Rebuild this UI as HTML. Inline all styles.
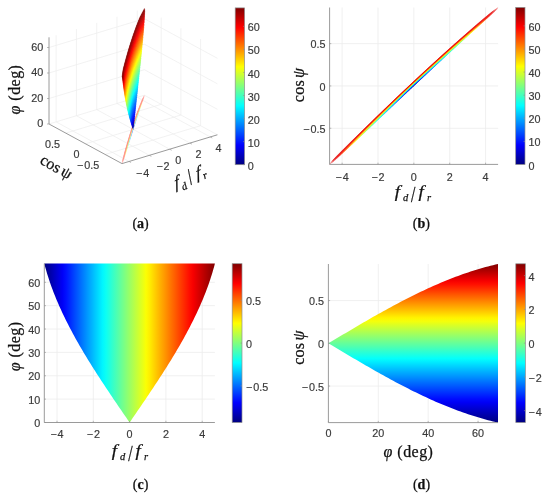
<!DOCTYPE html><html><head><meta charset="utf-8"><title>Figure</title><style>html,body{margin:0;padding:0;background:#fff;overflow:hidden;}svg{display:block;}</style></head><body><svg width="550" height="494" viewBox="0 0 550 494"><defs><linearGradient id="cbb" gradientUnits="userSpaceOnUse" x1="0" y1="164.5" x2="0" y2="7.4"><stop offset="0.0000" stop-color="#000080"/><stop offset="0.1250" stop-color="#0000ff"/><stop offset="0.3750" stop-color="#00ffff"/><stop offset="0.6250" stop-color="#ffff00"/><stop offset="0.8750" stop-color="#ff0000"/><stop offset="1.0000" stop-color="#800000"/></linearGradient><linearGradient id="gc" gradientUnits="userSpaceOnUse" x1="44.3" y1="0" x2="214.9" y2="0"><stop offset="0.0000" stop-color="#000080"/><stop offset="0.0213" stop-color="#000098"/><stop offset="0.0426" stop-color="#0000b0"/><stop offset="0.0638" stop-color="#0000c8"/><stop offset="0.0851" stop-color="#0000e0"/><stop offset="0.1064" stop-color="#0000f7"/><stop offset="0.1277" stop-color="#0010ff"/><stop offset="0.1489" stop-color="#0027ff"/><stop offset="0.1702" stop-color="#003fff"/><stop offset="0.1915" stop-color="#0056ff"/><stop offset="0.2128" stop-color="#006dff"/><stop offset="0.2340" stop-color="#0084ff"/><stop offset="0.2553" stop-color="#009bff"/><stop offset="0.2766" stop-color="#00b1ff"/><stop offset="0.2979" stop-color="#00c8ff"/><stop offset="0.3191" stop-color="#00deff"/><stop offset="0.3404" stop-color="#00f5ff"/><stop offset="0.3617" stop-color="#0cfff3"/><stop offset="0.3830" stop-color="#22ffdd"/><stop offset="0.4043" stop-color="#38ffc7"/><stop offset="0.4255" stop-color="#4effb1"/><stop offset="0.4468" stop-color="#64ff9b"/><stop offset="0.4681" stop-color="#7aff85"/><stop offset="0.4894" stop-color="#90ff6f"/><stop offset="0.5106" stop-color="#a5ff5a"/><stop offset="0.5319" stop-color="#bbff44"/><stop offset="0.5532" stop-color="#d0ff2f"/><stop offset="0.5745" stop-color="#e5ff1a"/><stop offset="0.5957" stop-color="#fbff04"/><stop offset="0.6170" stop-color="#ffee00"/><stop offset="0.6383" stop-color="#ffd900"/><stop offset="0.6596" stop-color="#ffc400"/><stop offset="0.6809" stop-color="#ffaf00"/><stop offset="0.7021" stop-color="#ff9b00"/><stop offset="0.7234" stop-color="#ff8600"/><stop offset="0.7447" stop-color="#ff7100"/><stop offset="0.7660" stop-color="#ff5d00"/><stop offset="0.7872" stop-color="#ff4800"/><stop offset="0.8085" stop-color="#ff3400"/><stop offset="0.8298" stop-color="#ff2000"/><stop offset="0.8511" stop-color="#ff0c00"/><stop offset="0.8723" stop-color="#f70000"/><stop offset="0.8936" stop-color="#e30000"/><stop offset="0.9149" stop-color="#cf0000"/><stop offset="0.9362" stop-color="#bb0000"/><stop offset="0.9574" stop-color="#a70000"/><stop offset="0.9787" stop-color="#930000"/><stop offset="1.0000" stop-color="#800000"/></linearGradient><linearGradient id="cbc" gradientUnits="userSpaceOnUse" x1="0" y1="422.5" x2="0" y2="263.7"><stop offset="0.0000" stop-color="#000080"/><stop offset="0.1250" stop-color="#0000ff"/><stop offset="0.3750" stop-color="#00ffff"/><stop offset="0.6250" stop-color="#ffff00"/><stop offset="0.8750" stop-color="#ff0000"/><stop offset="1.0000" stop-color="#800000"/></linearGradient><linearGradient id="gd" gradientUnits="userSpaceOnUse" x1="0" y1="422.6" x2="0" y2="264.0"><stop offset="0.0000" stop-color="#000080"/><stop offset="0.0213" stop-color="#000093"/><stop offset="0.0426" stop-color="#0000a6"/><stop offset="0.0638" stop-color="#0000ba"/><stop offset="0.0851" stop-color="#0000ce"/><stop offset="0.1064" stop-color="#0000e2"/><stop offset="0.1277" stop-color="#0000f6"/><stop offset="0.1489" stop-color="#000bff"/><stop offset="0.1702" stop-color="#001fff"/><stop offset="0.1915" stop-color="#0033ff"/><stop offset="0.2128" stop-color="#0047ff"/><stop offset="0.2340" stop-color="#005cff"/><stop offset="0.2553" stop-color="#0070ff"/><stop offset="0.2766" stop-color="#0085ff"/><stop offset="0.2979" stop-color="#009aff"/><stop offset="0.3191" stop-color="#00aeff"/><stop offset="0.3404" stop-color="#00c3ff"/><stop offset="0.3617" stop-color="#00d8ff"/><stop offset="0.3830" stop-color="#00edff"/><stop offset="0.4043" stop-color="#04fffb"/><stop offset="0.4255" stop-color="#19ffe6"/><stop offset="0.4468" stop-color="#2effd1"/><stop offset="0.4681" stop-color="#44ffbb"/><stop offset="0.4894" stop-color="#5affa5"/><stop offset="0.5106" stop-color="#6fff90"/><stop offset="0.5319" stop-color="#85ff7a"/><stop offset="0.5532" stop-color="#9bff64"/><stop offset="0.5745" stop-color="#b1ff4e"/><stop offset="0.5957" stop-color="#c7ff38"/><stop offset="0.6170" stop-color="#ddff22"/><stop offset="0.6383" stop-color="#f4ff0b"/><stop offset="0.6596" stop-color="#fff400"/><stop offset="0.6809" stop-color="#ffde00"/><stop offset="0.7021" stop-color="#ffc700"/><stop offset="0.7234" stop-color="#ffb000"/><stop offset="0.7447" stop-color="#ff9a00"/><stop offset="0.7660" stop-color="#ff8300"/><stop offset="0.7872" stop-color="#ff6c00"/><stop offset="0.8085" stop-color="#ff5500"/><stop offset="0.8298" stop-color="#ff3d00"/><stop offset="0.8511" stop-color="#ff2600"/><stop offset="0.8723" stop-color="#ff0f00"/><stop offset="0.8936" stop-color="#f60000"/><stop offset="0.9149" stop-color="#df0000"/><stop offset="0.9362" stop-color="#c70000"/><stop offset="0.9574" stop-color="#af0000"/><stop offset="0.9787" stop-color="#970000"/><stop offset="1.0000" stop-color="#800000"/></linearGradient><linearGradient id="cbd" gradientUnits="userSpaceOnUse" x1="0" y1="422.5" x2="0" y2="263.8"><stop offset="0.0000" stop-color="#000080"/><stop offset="0.1250" stop-color="#0000ff"/><stop offset="0.3750" stop-color="#00ffff"/><stop offset="0.6250" stop-color="#ffff00"/><stop offset="0.8750" stop-color="#ff0000"/><stop offset="1.0000" stop-color="#800000"/></linearGradient><linearGradient id="cba" gradientUnits="userSpaceOnUse" x1="0" y1="164.7" x2="0" y2="7.9"><stop offset="0.0000" stop-color="#000080"/><stop offset="0.1250" stop-color="#0000ff"/><stop offset="0.3750" stop-color="#00ffff"/><stop offset="0.6250" stop-color="#ffff00"/><stop offset="0.8750" stop-color="#ff0000"/><stop offset="1.0000" stop-color="#800000"/></linearGradient></defs><rect width="550" height="494" fill="#fff"/><line x1="342.13" y1="7.50" x2="342.13" y2="164.40" stroke="#ececec" stroke-width="0.8" />
<line x1="377.99" y1="7.50" x2="377.99" y2="164.40" stroke="#ececec" stroke-width="0.8" />
<line x1="413.85" y1="7.50" x2="413.85" y2="164.40" stroke="#ececec" stroke-width="0.8" />
<line x1="449.71" y1="7.50" x2="449.71" y2="164.40" stroke="#ececec" stroke-width="0.8" />
<line x1="485.57" y1="7.50" x2="485.57" y2="164.40" stroke="#ececec" stroke-width="0.8" />
<line x1="329.60" y1="128.26" x2="498.10" y2="128.26" stroke="#ececec" stroke-width="0.8" />
<line x1="329.60" y1="85.95" x2="498.10" y2="85.95" stroke="#ececec" stroke-width="0.8" />
<line x1="329.60" y1="43.64" x2="498.10" y2="43.64" stroke="#ececec" stroke-width="0.8" />
<polygon points="410.71,88.90 410.87,88.75 411.04,88.60 411.20,88.45 411.36,88.30 411.52,88.15 411.68,87.99 411.84,87.84 412.00,87.69 412.16,87.54 412.32,87.39 412.48,87.24 412.64,87.09 412.80,86.93 412.97,86.78 413.13,86.63 413.29,86.48 413.45,86.33 413.61,86.18 413.77,86.03 413.93,85.87 414.09,85.72 414.25,85.57 414.41,85.42 414.57,85.27 414.74,85.12 414.90,84.97 415.06,84.81 415.22,84.66 415.38,84.51 415.54,84.36 415.70,84.21 415.86,84.06 416.02,83.91 416.18,83.75 416.35,83.60 416.51,83.45 416.67,83.30 416.83,83.15 416.99,83.00 416.99,83.00 416.81,83.15 416.63,83.30 416.46,83.45 416.28,83.60 416.10,83.75 415.93,83.91 415.76,84.06 415.58,84.21 415.41,84.36 415.24,84.51 415.06,84.66 414.89,84.81 414.72,84.97 414.54,85.12 414.37,85.27 414.20,85.42 414.03,85.57 413.86,85.72 413.69,85.87 413.52,86.03 413.37,86.18 413.22,86.33 413.07,86.48 412.92,86.63 412.77,86.78 412.63,86.93 412.48,87.09 412.33,87.24 412.18,87.39 412.03,87.54 411.88,87.69 411.73,87.84 411.58,87.99 411.44,88.15 411.29,88.30 411.14,88.45 411.00,88.60 410.85,88.75 410.71,88.90" fill="#00008e" stroke="#00008e" stroke-width="0.15"/>
<polygon points="407.59,91.85 407.91,91.55 408.23,91.25 408.55,90.94 408.87,90.64 409.19,90.34 409.51,90.04 409.83,89.73 410.15,89.43 410.48,89.13 410.78,88.83 411.07,88.52 411.37,88.22 411.66,87.92 411.96,87.61 412.25,87.31 412.55,87.01 412.85,86.71 413.15,86.40 413.45,86.10 413.77,85.80 414.11,85.50 414.46,85.19 414.80,84.89 415.15,84.59 415.49,84.29 415.84,83.98 416.19,83.68 416.54,83.38 416.90,83.07 417.23,82.77 417.55,82.47 417.88,82.17 418.20,81.86 418.52,81.56 418.84,81.26 419.16,80.96 419.49,80.65 419.81,80.35 420.13,80.05 420.13,80.05 419.77,80.35 419.42,80.65 419.07,80.96 418.72,81.26 418.37,81.56 418.03,81.86 417.68,82.17 417.33,82.47 416.99,82.77 416.65,83.07 416.30,83.38 415.96,83.68 415.62,83.98 415.27,84.29 414.93,84.59 414.59,84.89 414.25,85.19 413.91,85.50 413.57,85.80 413.25,86.10 412.94,86.40 412.64,86.71 412.34,87.01 412.04,87.31 411.74,87.61 411.43,87.92 411.13,88.22 410.83,88.52 410.53,88.83 410.23,89.13 409.94,89.43 409.64,89.73 409.34,90.04 409.04,90.34 408.75,90.64 408.45,90.94 408.16,91.25 407.87,91.55 407.59,91.85" fill="#0000ac" stroke="#0000ac" stroke-width="0.15"/>
<polygon points="404.47,94.79 404.95,94.34 405.43,93.89 405.91,93.43 406.39,92.98 406.87,92.53 407.35,92.07 407.80,91.62 408.24,91.17 408.68,90.71 409.12,90.26 409.57,89.81 410.01,89.35 410.46,88.90 410.91,88.44 411.36,87.99 411.81,87.54 412.26,87.08 412.72,86.63 413.17,86.18 413.65,85.72 414.16,85.27 414.67,84.82 415.19,84.36 415.70,83.91 416.21,83.46 416.73,83.00 417.24,82.55 417.76,82.09 418.28,81.64 418.80,81.19 419.33,80.73 419.85,80.28 420.37,79.83 420.85,79.37 421.34,78.92 421.82,78.47 422.30,78.01 422.79,77.56 423.27,77.11 423.27,77.11 422.73,77.56 422.21,78.01 421.68,78.47 421.16,78.92 420.64,79.37 420.12,79.83 419.60,80.28 419.09,80.73 418.57,81.19 418.06,81.64 417.55,82.09 417.03,82.55 416.52,83.00 416.01,83.46 415.50,83.91 414.99,84.36 414.48,84.82 413.97,85.27 413.47,85.72 412.98,86.18 412.53,86.63 412.07,87.08 411.62,87.54 411.16,87.99 410.71,88.44 410.26,88.90 409.80,89.35 409.35,89.81 408.90,90.26 408.45,90.71 408.00,91.17 407.55,91.62 407.11,92.07 406.66,92.53 406.22,92.98 405.77,93.43 405.33,93.89 404.90,94.34 404.47,94.79" fill="#0000cb" stroke="#0000cb" stroke-width="0.15"/>
<polygon points="401.37,97.73 402.01,97.12 402.65,96.52 403.29,95.91 403.93,95.31 404.55,94.71 405.13,94.10 405.71,93.50 406.30,92.89 406.89,92.29 407.49,91.69 408.08,91.08 408.68,90.48 409.28,89.88 409.88,89.27 410.49,88.67 411.09,88.06 411.70,87.46 412.30,86.86 412.91,86.25 413.55,85.65 414.23,85.04 414.90,84.44 415.58,83.84 416.26,83.23 416.94,82.63 417.63,82.02 418.31,81.42 418.99,80.82 419.68,80.21 420.37,79.61 421.06,79.01 421.76,78.40 422.46,77.80 423.17,77.19 423.82,76.59 424.47,75.99 425.12,75.38 425.76,74.78 426.41,74.17 426.41,74.17 425.69,74.78 424.99,75.38 424.29,75.99 423.59,76.59 422.90,77.19 422.21,77.80 421.53,78.40 420.84,79.01 420.15,79.61 419.47,80.21 418.79,80.82 418.11,81.42 417.43,82.02 416.75,82.63 416.07,83.23 415.40,83.84 414.72,84.44 414.05,85.04 413.37,85.65 412.73,86.25 412.12,86.86 411.51,87.46 410.90,88.06 410.30,88.67 409.69,89.27 409.09,89.88 408.48,90.48 407.88,91.08 407.28,91.69 406.68,92.29 406.08,92.89 405.48,93.50 404.88,94.10 404.29,94.71 403.70,95.31 403.11,95.91 402.52,96.52 401.94,97.12 401.37,97.73" fill="#0000e8" stroke="#0000e8" stroke-width="0.15"/>
<polygon points="398.29,100.64 399.09,99.89 399.88,99.14 400.68,98.38 401.46,97.63 402.17,96.88 402.90,96.12 403.64,95.37 404.38,94.61 405.12,93.86 405.87,93.11 406.61,92.35 407.36,91.60 408.11,90.85 408.87,90.09 409.62,89.34 410.38,88.59 411.14,87.83 411.89,87.08 412.66,86.33 413.46,85.57 414.30,84.82 415.14,84.07 415.98,83.31 416.83,82.56 417.68,81.81 418.52,81.05 419.37,80.30 420.23,79.55 421.08,78.79 421.94,78.04 422.80,77.29 423.66,76.53 424.53,75.78 425.40,75.02 426.29,74.27 427.11,73.52 427.92,72.76 428.72,72.01 429.53,71.26 429.53,71.26 428.63,72.01 427.76,72.76 426.89,73.52 426.02,74.27 425.16,75.02 424.30,75.78 423.44,76.53 422.58,77.29 421.73,78.04 420.88,78.79 420.03,79.55 419.18,80.30 418.33,81.05 417.49,81.81 416.65,82.56 415.80,83.31 414.96,84.07 414.12,84.82 413.28,85.57 412.48,86.33 411.72,87.08 410.96,87.83 410.20,88.59 409.44,89.34 408.68,90.09 407.92,90.85 407.17,91.60 406.41,92.35 405.66,93.11 404.91,93.86 404.16,94.61 403.42,95.37 402.67,96.12 401.93,96.88 401.19,97.63 400.45,98.38 399.72,99.14 399.00,99.89 398.29,100.64" fill="#0007ff" stroke="#0007ff" stroke-width="0.15"/>
<polygon points="395.23,103.54 396.18,102.64 397.14,101.74 398.09,100.84 398.95,99.93 399.82,99.03 400.70,98.13 401.58,97.23 402.47,96.32 403.36,95.42 404.26,94.52 405.15,93.62 406.05,92.72 406.96,91.81 407.86,90.91 408.77,90.01 409.67,89.11 410.58,88.21 411.49,87.30 412.41,86.40 413.37,85.50 414.37,84.60 415.38,83.69 416.38,82.79 417.39,81.89 418.41,80.99 419.42,80.09 420.44,79.18 421.45,78.28 422.48,77.38 423.50,76.48 424.53,75.58 425.56,74.67 426.59,73.77 427.64,72.87 428.69,71.97 429.74,71.06 430.71,70.16 431.67,69.26 432.64,68.36 432.64,68.36 431.57,69.26 430.51,70.16 429.47,71.06 428.43,71.97 427.40,72.87 426.37,73.77 425.34,74.67 424.32,75.58 423.30,76.48 422.28,77.38 421.26,78.28 420.25,79.18 419.23,80.09 418.22,80.99 417.22,81.89 416.21,82.79 415.21,83.69 414.20,84.60 413.20,85.50 412.24,86.40 411.33,87.30 410.41,88.21 409.50,89.11 408.59,90.01 407.68,90.91 406.77,91.81 405.86,92.72 404.96,93.62 404.06,94.52 403.16,95.42 402.26,96.32 401.37,97.23 400.47,98.13 399.59,99.03 398.70,99.93 397.82,100.84 396.94,101.74 396.08,102.64 395.23,103.54" fill="#0025ff" stroke="#0025ff" stroke-width="0.15"/>
<polygon points="392.20,106.42 393.30,105.37 394.41,104.32 395.48,103.27 396.48,102.22 397.49,101.17 398.52,100.12 399.55,99.07 400.58,98.02 401.62,96.97 402.66,95.92 403.71,94.87 404.76,93.82 405.81,92.77 406.86,91.72 407.92,90.67 408.98,89.62 410.04,88.57 411.10,87.52 412.17,86.47 413.28,85.43 414.45,84.38 415.62,83.33 416.79,82.28 417.96,81.23 419.13,80.18 420.31,79.13 421.49,78.08 422.67,77.03 423.86,75.98 425.05,74.93 426.25,73.88 427.44,72.83 428.65,71.78 429.86,70.73 431.08,69.68 432.31,68.63 433.48,67.58 434.61,66.53 435.74,65.48 435.74,65.48 434.48,66.53 433.26,67.58 432.04,68.63 430.83,69.68 429.62,70.73 428.43,71.78 427.23,72.83 426.04,73.88 424.85,74.93 423.67,75.98 422.48,77.03 421.30,78.08 420.13,79.13 418.95,80.18 417.78,81.23 416.61,82.28 415.45,83.33 414.28,84.38 413.12,85.43 412.00,86.47 410.94,87.52 409.87,88.57 408.80,89.62 407.74,90.67 406.68,91.72 405.62,92.77 404.57,93.82 403.52,94.87 402.47,95.92 401.42,96.97 400.37,98.02 399.33,99.07 398.29,100.12 397.26,101.17 396.23,102.22 395.20,103.27 394.19,104.32 393.18,105.37 392.20,106.42" fill="#0043ff" stroke="#0043ff" stroke-width="0.15"/>
<polygon points="389.19,109.27 390.45,108.08 391.71,106.88 392.88,105.68 394.02,104.49 395.18,103.29 396.35,102.10 397.53,100.90 398.71,99.70 399.89,98.51 401.08,97.31 402.27,96.12 403.47,94.92 404.67,93.72 405.87,92.53 407.08,91.33 408.29,90.14 409.50,88.94 410.71,87.74 411.93,86.55 413.20,85.35 414.53,84.16 415.85,82.96 417.18,81.76 418.52,80.57 419.85,79.37 421.19,78.18 422.54,76.98 423.88,75.78 425.23,74.59 426.59,73.39 427.95,72.20 429.31,71.00 430.69,69.80 432.06,68.61 433.45,67.41 434.85,66.22 436.23,65.02 437.52,63.82 438.81,62.63 438.81,62.63 437.38,63.82 435.98,65.02 434.59,66.22 433.21,67.41 431.83,68.61 430.47,69.80 429.10,71.00 427.74,72.20 426.39,73.39 425.04,74.59 423.70,75.78 422.35,76.98 421.01,78.18 419.68,79.37 418.35,80.57 417.02,81.76 415.69,82.96 414.36,84.16 413.04,85.35 411.77,86.55 410.55,87.74 409.33,88.94 408.12,90.14 406.91,91.33 405.70,92.53 404.49,93.72 403.28,94.92 402.08,96.12 400.89,97.31 399.69,98.51 398.50,99.70 397.31,100.90 396.13,102.10 394.95,103.29 393.78,104.49 392.61,105.68 391.45,106.88 390.31,108.08 389.19,109.27" fill="#0062ff" stroke="#0062ff" stroke-width="0.15"/>
<polygon points="386.22,112.10 387.63,110.76 389.04,109.41 390.31,108.07 391.60,106.73 392.90,105.39 394.21,104.05 395.52,102.71 396.85,101.37 398.18,100.03 399.51,98.69 400.85,97.35 402.19,96.01 403.54,94.67 404.89,93.32 406.25,91.98 407.60,90.64 408.97,89.30 410.33,87.96 411.70,86.62 413.12,85.28 414.60,83.94 416.09,82.60 417.58,81.26 419.07,79.92 420.57,78.58 422.07,77.23 423.57,75.89 425.08,74.55 426.59,73.21 428.11,71.87 429.64,70.53 431.17,69.19 432.70,67.85 434.25,66.51 435.80,65.17 437.38,63.83 438.97,62.49 440.41,61.14 441.86,59.80 441.86,59.80 440.25,61.14 438.67,62.49 437.11,63.83 435.56,65.17 434.02,66.51 432.48,67.85 430.96,69.19 429.43,70.53 427.92,71.87 426.40,73.21 424.89,74.55 423.39,75.89 421.89,77.23 420.39,78.58 418.90,79.92 417.41,81.26 415.93,82.60 414.45,83.94 412.97,85.28 411.54,86.62 410.17,87.96 408.80,89.30 407.44,90.64 406.08,91.98 404.72,93.32 403.36,94.67 402.01,96.01 400.66,97.35 399.32,98.69 397.98,100.03 396.64,101.37 395.31,102.71 393.99,104.05 392.67,105.39 391.35,106.73 390.05,108.07 388.75,109.41 387.47,110.76 386.22,112.10" fill="#0080ff" stroke="#0080ff" stroke-width="0.15"/>
<polygon points="383.28,114.89 384.84,113.40 386.38,111.92 387.77,110.44 389.20,108.95 390.64,107.47 392.09,105.98 393.54,104.50 395.01,103.02 396.48,101.53 397.96,100.05 399.44,98.56 400.93,97.08 402.42,95.60 403.92,94.11 405.42,92.63 406.93,91.14 408.44,89.66 409.95,88.18 411.47,86.69 413.05,85.21 414.68,83.72 416.32,82.24 417.97,80.76 419.62,79.27 421.27,77.79 422.93,76.30 424.60,74.82 426.26,73.34 427.94,71.85 429.62,70.37 431.30,68.88 433.00,67.40 434.70,65.92 436.41,64.43 438.13,62.95 439.87,61.46 441.64,59.98 443.28,58.50 444.88,57.01 444.88,57.01 443.09,58.50 441.34,59.98 439.61,61.46 437.89,62.95 436.18,64.43 434.48,65.92 432.79,67.40 431.10,68.88 429.42,70.37 427.75,71.85 426.08,73.34 424.41,74.82 422.76,76.30 421.10,77.79 419.45,79.27 417.81,80.76 416.16,82.24 414.53,83.72 412.89,85.21 411.31,86.69 409.79,88.18 408.28,89.66 406.76,91.14 405.26,92.63 403.75,94.11 402.25,95.60 400.75,97.08 399.26,98.56 397.77,100.05 396.29,101.53 394.81,103.02 393.33,104.50 391.87,105.98 390.41,107.47 388.95,108.95 387.51,110.44 386.08,111.92 384.66,113.40 383.28,114.89" fill="#009eff" stroke="#009eff" stroke-width="0.15"/>
<polygon points="380.38,117.65 382.09,116.02 383.73,114.40 385.26,112.77 386.82,111.14 388.40,109.52 389.99,107.89 391.59,106.27 393.19,104.64 394.81,103.02 396.43,101.39 398.05,99.77 399.68,98.14 401.32,96.52 402.96,94.89 404.61,93.26 406.26,91.64 407.92,90.01 409.58,88.39 411.24,86.76 412.97,85.14 414.76,83.51 416.55,81.89 418.35,80.26 420.16,78.64 421.97,77.01 423.78,75.38 425.60,73.76 427.43,72.13 429.26,70.51 431.10,68.88 432.95,67.26 434.81,65.63 436.67,64.01 438.55,62.38 440.43,60.76 442.34,59.13 444.28,57.50 446.11,55.88 447.87,54.25 447.87,54.25 445.90,55.88 443.98,57.50 442.08,59.13 440.19,60.76 438.32,62.38 436.45,64.01 434.60,65.63 432.75,67.26 430.91,68.88 429.07,70.51 427.25,72.13 425.42,73.76 423.61,75.38 421.80,77.01 419.99,78.64 418.19,80.26 416.40,81.89 414.61,83.51 412.82,85.14 411.09,86.76 409.42,88.39 407.76,90.01 406.10,91.64 404.44,93.26 402.79,94.89 401.15,96.52 399.51,98.14 397.87,99.77 396.24,101.39 394.61,103.02 392.99,104.64 391.38,106.27 389.77,107.89 388.17,109.52 386.58,111.14 385.00,112.77 383.43,114.40 381.88,116.02 380.38,117.65" fill="#00bcff" stroke="#00bcff" stroke-width="0.15"/>
<polygon points="377.53,120.36 379.38,118.60 381.12,116.83 382.79,115.07 384.48,113.31 386.20,111.54 387.92,109.78 389.66,108.01 391.40,106.25 393.15,104.48 394.91,102.72 396.68,100.95 398.45,99.19 400.23,97.42 402.02,95.66 403.81,93.89 405.60,92.13 407.40,90.36 409.21,88.60 411.02,86.83 412.89,85.07 414.84,83.30 416.78,81.54 418.73,79.77 420.69,78.01 422.65,76.24 424.62,74.48 426.60,72.71 428.58,70.95 430.57,69.18 432.56,67.42 434.57,65.65 436.59,63.89 438.61,62.12 440.65,60.36 442.70,58.59 444.78,56.83 446.88,55.07 448.91,53.30 450.83,51.54 450.83,51.54 448.68,53.30 446.58,55.07 444.51,56.83 442.46,58.59 440.42,60.36 438.39,62.12 436.38,63.89 434.37,65.65 432.37,67.42 430.38,69.18 428.39,70.95 426.42,72.71 424.45,74.48 422.48,76.24 420.52,78.01 418.57,79.77 416.62,81.54 414.68,83.30 412.75,85.07 410.87,86.83 409.06,88.60 407.25,90.36 405.44,92.13 403.64,93.89 401.85,95.66 400.06,97.42 398.27,99.19 396.50,100.95 394.72,102.72 392.96,104.48 391.20,106.25 389.45,108.01 387.70,109.78 385.97,111.54 384.24,113.31 382.53,115.07 380.83,116.83 379.15,118.60 377.53,120.36" fill="#00daff" stroke="#00daff" stroke-width="0.15"/>
<polygon points="374.71,123.04 376.71,121.14 378.55,119.24 380.35,117.33 382.18,115.43 384.02,113.53 385.88,111.63 387.75,109.73 389.63,107.82 391.52,105.92 393.42,104.02 395.32,102.12 397.24,100.22 399.16,98.31 401.08,96.41 403.01,94.51 404.95,92.61 406.89,90.71 408.84,88.80 410.80,86.90 412.82,85.00 414.91,83.10 417.00,81.19 419.10,79.29 421.21,77.39 423.32,75.49 425.44,73.59 427.57,71.68 429.71,69.78 431.85,67.88 434.00,65.98 436.16,64.08 438.34,62.17 440.52,60.27 442.72,58.37 444.94,56.47 447.17,54.57 449.44,52.66 451.67,50.76 453.74,48.86 453.74,48.86 451.41,50.76 449.15,52.66 446.91,54.57 444.69,56.47 442.49,58.37 440.30,60.27 438.13,62.17 435.96,64.08 433.81,65.98 431.66,67.88 429.52,69.78 427.39,71.68 425.27,73.59 423.15,75.49 421.05,77.39 418.94,79.29 416.85,81.19 414.76,83.10 412.67,85.00 410.65,86.90 408.69,88.80 406.74,90.71 404.79,92.61 402.85,94.51 400.91,96.41 398.98,98.31 397.06,100.22 395.14,102.12 393.23,104.02 391.33,105.92 389.43,107.82 387.54,109.73 385.66,111.63 383.79,113.53 381.93,115.43 380.09,117.33 378.26,119.24 376.46,121.14 374.71,123.04" fill="#00f8ff" stroke="#00f8ff" stroke-width="0.15"/>
<polygon points="371.95,125.67 374.09,123.64 376.03,121.60 377.95,119.56 379.90,117.52 381.88,115.49 383.87,113.45 385.87,111.41 387.89,109.38 389.91,107.34 391.95,105.30 393.99,103.26 396.04,101.23 398.10,99.19 400.16,97.15 402.23,95.12 404.31,93.08 406.39,91.04 408.48,89.01 410.58,86.97 412.75,84.93 414.98,82.89 417.22,80.86 419.47,78.82 421.72,76.78 423.98,74.75 426.25,72.71 428.53,70.67 430.81,68.64 433.11,66.60 435.41,64.56 437.73,62.52 440.06,60.49 442.40,58.45 444.76,56.41 447.13,54.38 449.53,52.34 451.97,50.30 454.39,48.26 456.61,46.23 456.61,46.23 454.11,48.26 451.67,50.30 449.27,52.34 446.89,54.38 444.53,56.41 442.18,58.45 439.85,60.49 437.53,62.52 435.22,64.56 432.92,66.60 430.63,68.64 428.35,70.67 426.08,72.71 423.81,74.75 421.56,76.78 419.31,78.82 417.07,80.86 414.83,82.89 412.60,84.93 410.44,86.97 408.34,89.01 406.24,91.04 404.15,93.08 402.07,95.12 399.99,97.15 397.92,99.19 395.86,101.23 393.81,103.26 391.76,105.30 389.72,107.34 387.69,109.38 385.66,111.41 383.65,113.45 381.65,115.49 379.66,117.52 377.69,119.56 375.73,121.60 373.81,123.64 371.95,125.67" fill="#16ffe9" stroke="#16ffe9" stroke-width="0.15"/>
<polygon points="369.23,128.26 371.51,126.09 373.54,123.92 375.59,121.75 377.67,119.58 379.77,117.41 381.89,115.24 384.03,113.07 386.17,110.90 388.33,108.73 390.50,106.56 392.67,104.39 394.86,102.22 397.05,100.05 399.25,97.88 401.46,95.71 403.68,93.54 405.90,91.37 408.13,89.20 410.37,87.03 412.67,84.87 415.05,82.70 417.43,80.53 419.82,78.36 422.22,76.19 424.62,74.02 427.04,71.85 429.46,69.68 431.89,67.51 434.34,65.34 436.79,63.17 439.26,61.00 441.74,58.83 444.24,56.66 446.75,54.49 449.29,52.32 451.85,50.15 454.45,47.98 457.06,45.81 459.44,43.64 459.44,43.64 456.75,45.81 454.15,47.98 451.58,50.15 449.04,52.32 446.52,54.49 444.02,56.66 441.53,58.83 439.06,61.00 436.60,63.17 434.15,65.34 431.71,67.51 429.28,69.68 426.87,71.85 424.46,74.02 422.05,76.19 419.66,78.36 417.28,80.53 414.90,82.70 412.53,84.87 410.22,87.03 407.98,89.20 405.75,91.37 403.52,93.54 401.30,95.71 399.09,97.88 396.88,100.05 394.68,102.22 392.49,104.39 390.31,106.56 388.13,108.73 385.97,110.90 383.82,113.07 381.67,115.24 379.54,117.41 377.42,119.58 375.33,121.75 373.25,123.92 371.20,126.09 369.23,128.26" fill="#34ffcb" stroke="#34ffcb" stroke-width="0.15"/>
<polygon points="366.57,130.79 368.99,128.49 371.11,126.19 373.27,123.89 375.48,121.59 377.70,119.29 379.95,116.99 382.21,114.69 384.49,112.39 386.77,110.09 389.07,107.79 391.38,105.49 393.70,103.20 396.02,100.90 398.36,98.60 400.70,96.30 403.06,94.00 405.41,91.70 407.78,89.40 410.16,87.10 412.60,84.80 415.11,82.50 417.63,80.20 420.16,77.90 422.70,75.60 425.25,73.30 427.80,71.00 430.37,68.70 432.95,66.41 435.54,64.11 438.14,61.81 440.76,59.51 443.39,57.21 446.04,54.91 448.71,52.61 451.40,50.31 454.12,48.01 456.88,45.71 459.69,43.41 462.21,41.11 462.21,41.11 459.35,43.41 456.58,45.71 453.85,48.01 451.15,50.31 448.47,52.61 445.82,54.91 443.18,57.21 440.56,59.51 437.95,61.81 435.35,64.11 432.77,66.41 430.20,68.70 427.63,71.00 425.08,73.30 422.54,75.60 420.01,77.90 417.48,80.20 414.97,82.50 412.46,84.80 410.01,87.10 407.63,89.40 405.26,91.70 402.90,94.00 400.54,96.30 398.19,98.60 395.85,100.90 393.52,103.20 391.20,105.49 388.88,107.79 386.58,110.09 384.28,112.39 382.00,114.69 379.73,116.99 377.47,119.29 375.23,121.59 373.01,123.89 370.81,126.19 368.65,128.49 366.57,130.79" fill="#52ffac" stroke="#52ffac" stroke-width="0.15"/>
<polygon points="363.96,133.26 366.52,130.84 368.72,128.41 371.00,125.98 373.32,123.56 375.67,121.13 378.04,118.71 380.43,116.28 382.83,113.85 385.25,111.43 387.67,109.00 390.11,106.57 392.56,104.15 395.02,101.72 397.48,99.29 399.96,96.87 402.44,94.44 404.94,92.02 407.44,89.59 409.95,87.16 412.53,84.74 415.17,82.31 417.83,79.88 420.50,77.46 423.17,75.03 425.86,72.61 428.55,70.18 431.26,67.75 433.98,65.33 436.71,62.90 439.46,60.47 442.22,58.05 445.00,55.62 447.80,53.19 450.62,50.77 453.46,48.34 456.34,45.92 459.25,43.49 462.26,41.06 464.93,38.64 464.93,38.64 461.89,41.06 458.95,43.49 456.07,45.92 453.21,48.34 450.38,50.77 447.57,53.19 444.79,55.62 442.02,58.05 439.26,60.47 436.52,62.90 433.80,65.33 431.09,67.75 428.38,70.18 425.69,72.61 423.01,75.03 420.34,77.46 417.68,79.88 415.03,82.31 412.38,84.74 409.81,87.16 407.29,89.59 404.79,92.02 402.29,94.44 399.80,96.87 397.32,99.29 394.85,101.72 392.38,104.15 389.93,106.57 387.48,109.00 385.05,111.43 382.63,113.85 380.22,116.28 377.82,118.71 375.44,121.13 373.07,123.56 370.73,125.98 368.42,128.41 366.14,130.84 363.96,133.26" fill="#70ff8e" stroke="#70ff8e" stroke-width="0.15"/>
<polygon points="361.42,135.68 364.07,133.13 366.38,130.58 368.78,128.03 371.22,125.48 373.68,122.93 376.17,120.38 378.68,117.83 381.21,115.28 383.75,112.73 386.30,110.18 388.87,107.63 391.44,105.08 394.03,102.53 396.62,99.98 399.23,97.43 401.84,94.88 404.47,92.33 407.10,89.78 409.74,87.23 412.45,84.67 415.23,82.12 418.02,79.57 420.82,77.02 423.63,74.47 426.45,71.92 429.28,69.37 432.12,66.82 434.98,64.27 437.85,61.72 440.74,59.17 443.64,56.62 446.57,54.07 449.51,51.52 452.48,48.97 455.47,46.42 458.50,43.87 461.58,41.32 464.75,38.77 467.58,36.22 467.58,36.22 464.37,38.77 461.27,41.32 458.23,43.87 455.22,46.42 452.24,48.97 449.29,51.52 446.35,54.07 443.44,56.62 440.55,59.17 437.67,61.72 434.80,64.27 431.95,66.82 429.11,69.37 426.28,71.92 423.47,74.47 420.66,77.02 417.87,79.57 415.09,82.12 412.31,84.67 409.60,87.23 406.95,89.78 404.32,92.33 401.69,94.88 399.07,97.43 396.46,99.98 393.86,102.53 391.27,105.08 388.68,107.63 386.11,110.18 383.55,112.73 381.01,115.28 378.47,117.83 375.95,120.38 373.45,122.93 370.96,125.48 368.50,128.03 366.07,130.58 363.69,133.13 361.42,135.68" fill="#8eff71" stroke="#8eff71" stroke-width="0.15"/>
<polygon points="358.93,138.04 361.67,135.37 364.09,132.70 366.60,130.03 369.15,127.36 371.74,124.68 374.35,122.01 376.97,119.34 379.62,116.67 382.28,114.00 384.96,111.33 387.65,108.66 390.35,105.99 393.06,103.31 395.78,100.64 398.51,97.97 401.25,95.30 404.00,92.63 406.77,89.96 409.54,87.29 412.38,84.61 415.28,81.94 418.20,79.27 421.13,76.60 424.07,73.93 427.02,71.26 429.98,68.59 432.96,65.91 435.95,63.24 438.96,60.57 441.98,57.90 445.03,55.23 448.09,52.56 451.17,49.89 454.29,47.22 457.43,44.54 460.61,41.87 463.84,39.20 467.17,36.53 470.18,33.86 470.18,33.86 466.79,36.53 463.53,39.20 460.33,41.87 457.17,44.54 454.05,47.22 450.95,49.89 447.87,52.56 444.82,55.23 441.79,57.90 438.77,60.57 435.77,63.24 432.79,65.91 429.82,68.59 426.86,71.26 423.91,73.93 420.98,76.60 418.05,79.27 415.14,81.94 412.24,84.61 409.40,87.29 406.62,89.96 403.86,92.63 401.10,95.30 398.35,97.97 395.62,100.64 392.89,103.31 390.17,105.99 387.47,108.66 384.77,111.33 382.09,114.00 379.42,116.67 376.76,119.34 374.12,122.01 371.50,124.68 368.90,127.36 366.32,130.03 363.78,132.70 361.30,135.37 358.93,138.04" fill="#acff53" stroke="#acff53" stroke-width="0.15"/>
<polygon points="356.51,140.34 359.34,137.55 361.86,134.76 364.47,131.97 367.14,129.18 369.83,126.39 372.56,123.60 375.30,120.81 378.07,118.02 380.85,115.24 383.65,112.45 386.45,109.66 389.28,106.87 392.11,104.08 394.95,101.29 397.81,98.50 400.68,95.71 403.55,92.92 406.44,90.13 409.34,87.34 412.30,84.56 415.33,81.77 418.37,78.98 421.43,76.19 424.49,73.40 427.57,70.61 430.67,67.82 433.77,65.03 436.89,62.24 440.03,59.45 443.19,56.66 446.37,53.88 449.57,51.09 452.79,48.30 456.04,45.51 459.33,42.72 462.65,39.93 466.04,37.14 469.52,34.35 472.71,31.56 472.71,31.56 469.14,34.35 465.72,37.14 462.37,39.93 459.07,42.72 455.80,45.51 452.56,48.30 449.35,51.09 446.16,53.88 442.99,56.66 439.84,59.45 436.71,62.24 433.60,65.03 430.50,67.82 427.41,70.61 424.34,73.40 421.28,76.19 418.23,78.98 415.19,81.77 412.16,84.56 409.20,87.34 406.30,90.13 403.40,92.92 400.52,95.71 397.65,98.50 394.79,101.29 391.94,104.08 389.10,106.87 386.27,109.66 383.46,112.45 380.65,115.24 377.86,118.02 375.09,120.81 372.33,123.60 369.59,126.39 366.88,129.18 364.19,131.97 361.55,134.76 358.96,137.55 356.51,140.34" fill="#caff35" stroke="#caff35" stroke-width="0.15"/>
<polygon points="354.15,142.57 357.07,139.66 359.68,136.76 362.40,133.86 365.17,130.95 367.98,128.05 370.81,125.15 373.67,122.24 376.55,119.34 379.45,116.44 382.36,113.53 385.29,110.63 388.23,107.73 391.18,104.82 394.15,101.92 397.12,99.02 400.11,96.11 403.11,93.21 406.12,90.31 409.14,87.40 412.22,84.50 415.38,81.59 418.54,78.69 421.71,75.79 424.90,72.88 428.10,69.98 431.32,67.08 434.55,64.17 437.80,61.27 441.07,58.37 444.35,55.46 447.66,52.56 450.99,49.66 454.35,46.75 457.74,43.85 461.16,40.95 464.63,38.04 468.17,35.14 471.81,32.24 475.17,29.33 475.17,29.33 471.42,32.24 467.85,35.14 464.35,38.04 460.90,40.95 457.49,43.85 454.12,46.75 450.78,49.66 447.45,52.56 444.16,55.46 440.88,58.37 437.62,61.27 434.38,64.17 431.15,67.08 427.94,69.98 424.75,72.88 421.56,75.79 418.39,78.69 415.23,81.59 412.09,84.50 409.00,87.40 405.98,90.31 402.96,93.21 399.96,96.11 396.97,99.02 393.99,101.92 391.02,104.82 388.06,107.73 385.11,110.63 382.17,113.53 379.25,116.44 376.35,119.34 373.46,122.24 370.58,125.15 367.73,128.05 364.91,130.95 362.12,133.86 359.37,136.76 356.68,139.66 354.15,142.57" fill="#e8ff17" stroke="#e8ff17" stroke-width="0.15"/>
<polygon points="351.87,144.73 354.86,141.71 357.56,138.70 360.38,135.68 363.25,132.67 366.17,129.66 369.11,126.64 372.08,123.63 375.08,120.61 378.09,117.60 381.11,114.58 384.16,111.57 387.21,108.56 390.28,105.54 393.36,102.53 396.45,99.51 399.56,96.50 402.68,93.49 405.80,90.47 408.94,87.46 412.15,84.44 415.41,81.43 418.69,78.41 421.99,75.40 425.29,72.39 428.62,69.37 431.95,66.36 435.30,63.34 438.68,60.33 442.07,57.32 445.48,54.30 448.91,51.29 452.37,48.27 455.85,45.26 459.38,42.24 462.94,39.23 466.55,36.22 470.23,33.20 474.02,30.19 477.55,27.17 477.55,27.17 473.63,30.19 469.90,33.20 466.26,36.22 462.67,39.23 459.13,42.24 455.62,45.26 452.15,48.27 448.70,51.29 445.28,54.30 441.88,57.32 438.49,60.33 435.13,63.34 431.78,66.36 428.45,69.37 425.14,72.39 421.84,75.40 418.55,78.41 415.27,81.43 412.01,84.44 408.81,87.46 405.66,90.47 402.53,93.49 399.41,96.50 396.30,99.51 393.20,102.53 390.11,105.54 387.04,108.56 383.97,111.57 380.93,114.58 377.89,117.60 374.87,120.61 371.87,123.63 368.88,126.64 365.92,129.66 362.99,132.67 360.09,135.68 357.24,138.70 354.46,141.71 351.87,144.73" fill="#fff800" stroke="#fff800" stroke-width="0.15"/>
<polygon points="349.65,146.81 352.71,143.69 355.50,140.57 358.41,137.45 361.39,134.33 364.41,131.21 367.46,128.09 370.54,124.97 373.64,121.84 376.76,118.72 379.90,115.60 383.05,112.48 386.22,109.36 389.40,106.24 392.60,103.12 395.80,100.00 399.02,96.87 402.25,93.75 405.50,90.63 408.75,87.51 412.07,84.39 415.45,81.27 418.84,78.15 422.25,75.03 425.67,71.90 429.10,68.78 432.56,65.66 436.02,62.54 439.51,59.42 443.02,56.30 446.55,53.18 450.11,50.06 453.69,46.93 457.30,43.81 460.95,40.69 464.64,37.57 468.39,34.45 472.21,31.33 476.16,28.21 479.86,25.09 479.86,25.09 475.76,28.21 471.88,31.33 468.10,34.45 464.37,37.57 460.70,40.69 457.07,43.81 453.47,46.93 449.90,50.06 446.35,53.18 442.83,56.30 439.33,59.42 435.85,62.54 432.39,65.66 428.94,68.78 425.51,71.90 422.10,75.03 418.69,78.15 415.31,81.27 411.93,84.39 408.61,87.51 405.35,90.63 402.11,93.75 398.87,96.87 395.65,100.00 392.43,103.12 389.23,106.24 386.05,109.36 382.87,112.48 379.71,115.60 376.56,118.72 373.43,121.84 370.32,124.97 367.23,128.09 364.16,131.21 361.12,134.33 358.12,137.45 355.18,140.57 352.31,143.69 349.65,146.81" fill="#ffda00" stroke="#ffda00" stroke-width="0.15"/>
<polygon points="347.51,148.83 350.63,145.60 353.50,142.38 356.51,139.15 359.58,135.93 362.70,132.71 365.85,129.48 369.04,126.26 372.25,123.03 375.47,119.81 378.72,116.58 381.98,113.36 385.26,110.13 388.55,106.91 391.85,103.68 395.17,100.46 398.50,97.24 401.84,94.01 405.19,90.79 408.56,87.56 411.99,84.34 415.47,81.11 418.98,77.89 422.49,74.66 426.02,71.44 429.57,68.22 433.13,64.99 436.71,61.77 440.31,58.54 443.94,55.32 447.58,52.09 451.25,48.87 454.95,45.64 458.69,42.42 462.46,39.19 466.28,35.97 470.15,32.75 474.11,29.52 478.22,26.30 482.08,23.07 482.08,23.07 477.81,26.30 473.78,29.52 469.86,32.75 466.01,35.97 462.21,39.19 458.45,42.42 454.73,45.64 451.05,48.87 447.38,52.09 443.75,55.32 440.13,58.54 436.54,61.77 432.96,64.99 429.41,68.22 425.87,71.44 422.34,74.66 418.83,77.89 415.33,81.11 411.85,84.34 408.43,87.56 405.05,90.79 401.69,94.01 398.35,97.24 395.01,100.46 391.69,103.68 388.38,106.91 385.08,110.13 381.80,113.36 378.53,116.58 375.27,119.81 372.04,123.03 368.82,126.26 365.62,129.48 362.45,132.71 359.31,135.93 356.21,139.15 353.17,142.38 350.22,145.60 347.51,148.83" fill="#ffbc00" stroke="#ffbc00" stroke-width="0.15"/>
<polygon points="345.44,150.77 348.62,147.44 351.56,144.12 354.65,140.79 357.82,137.47 361.04,134.15 364.30,130.82 367.58,127.50 370.89,124.17 374.22,120.85 377.57,117.53 380.94,114.20 384.32,110.88 387.72,107.56 391.13,104.23 394.55,100.91 397.99,97.58 401.44,94.26 404.90,90.94 408.37,87.61 411.91,84.29 415.50,80.96 419.10,77.64 422.72,74.32 426.36,70.99 430.01,67.67 433.68,64.34 437.37,61.02 441.08,57.70 444.81,54.37 448.57,51.05 452.35,47.73 456.16,44.40 460.01,41.08 463.90,37.75 467.84,34.43 471.84,31.11 475.93,27.78 480.18,24.46 484.22,21.13 484.22,21.13 479.76,24.46 475.59,27.78 471.54,31.11 467.56,34.43 463.65,37.75 459.78,41.08 455.94,44.40 452.14,47.73 448.37,51.05 444.62,54.37 440.90,57.70 437.19,61.02 433.51,64.34 429.85,67.67 426.20,70.99 422.57,74.32 418.96,77.64 415.36,80.96 411.77,84.29 408.24,87.61 404.76,90.94 401.29,94.26 397.84,97.58 394.39,100.91 390.97,104.23 387.55,107.56 384.15,110.88 380.76,114.20 377.38,117.53 374.03,120.85 370.68,124.17 367.36,127.50 364.06,130.82 360.79,134.15 357.55,137.47 354.35,140.79 351.22,144.12 348.20,147.44 345.44,150.77" fill="#ff9e00" stroke="#ff9e00" stroke-width="0.15"/>
<polygon points="343.45,152.62 346.67,149.21 349.69,145.79 352.86,142.37 356.12,138.95 359.44,135.53 362.79,132.11 366.18,128.69 369.59,125.27 373.02,121.85 376.47,118.43 379.93,115.01 383.42,111.59 386.91,108.17 390.43,104.76 393.95,101.34 397.49,97.92 401.04,94.50 404.61,91.08 408.19,87.66 411.82,84.24 415.51,80.82 419.21,77.40 422.93,73.98 426.67,70.56 430.42,67.14 434.20,63.73 437.99,60.31 441.80,56.89 445.64,53.47 449.50,50.05 453.39,46.63 457.31,43.21 461.27,39.79 465.27,36.37 469.32,32.95 473.45,29.53 477.67,26.11 482.06,22.69 486.27,19.28 486.27,19.28 481.63,22.69 477.32,26.11 473.14,29.53 469.05,32.95 465.01,36.37 461.03,39.79 457.09,43.21 453.18,46.63 449.30,50.05 445.45,53.47 441.62,56.89 437.81,60.31 434.03,63.73 430.26,67.14 426.52,70.56 422.79,73.98 419.07,77.40 415.37,80.82 411.69,84.24 408.06,87.66 404.47,91.08 400.90,94.50 397.34,97.92 393.80,101.34 390.27,104.76 386.75,108.17 383.24,111.59 379.75,115.01 376.28,118.43 372.82,121.85 369.38,125.27 365.95,128.69 362.55,132.11 359.18,135.53 355.84,138.95 352.56,142.37 349.34,145.79 346.24,149.21 343.45,152.62" fill="#ff8000" stroke="#ff8000" stroke-width="0.15"/>
<polygon points="341.54,154.40 344.79,150.89 347.87,147.38 351.13,143.87 354.48,140.36 357.89,136.85 361.34,133.34 364.82,129.83 368.32,126.32 371.85,122.81 375.40,119.30 378.96,115.79 382.54,112.28 386.14,108.77 389.75,105.26 393.37,101.75 397.01,98.24 400.66,94.73 404.33,91.22 408.01,87.71 411.74,84.19 415.52,80.68 419.32,77.17 423.13,73.66 426.96,70.15 430.81,66.64 434.68,63.13 438.57,59.62 442.48,56.11 446.42,52.60 450.38,49.09 454.37,45.58 458.40,42.07 462.46,38.56 466.57,35.05 470.73,31.54 474.96,28.03 479.31,24.52 483.84,21.01 488.23,17.50 488.23,17.50 483.39,21.01 478.95,24.52 474.65,28.03 470.45,31.54 466.31,35.05 462.22,38.56 458.17,42.07 454.16,45.58 450.18,49.09 446.23,52.60 442.30,56.11 438.40,59.62 434.52,63.13 430.65,66.64 426.81,70.15 422.98,73.66 419.18,77.17 415.38,80.68 411.61,84.19 407.88,87.71 404.19,91.22 400.52,94.73 396.86,98.24 393.22,101.75 389.59,105.26 385.97,108.77 382.37,112.28 378.78,115.79 375.21,119.30 371.65,122.81 368.11,126.32 364.59,129.83 361.10,133.34 357.63,136.85 354.20,140.36 350.82,143.87 347.51,147.38 344.34,150.89 341.54,154.40" fill="#ff6200" stroke="#ff6200" stroke-width="0.15"/>
<polygon points="339.71,156.10 342.97,152.50 346.12,148.90 349.46,145.30 352.89,141.71 356.39,138.11 359.93,134.51 363.51,130.92 367.11,127.32 370.73,123.72 374.37,120.12 378.03,116.53 381.70,112.93 385.39,109.33 389.10,105.73 392.81,102.14 396.55,98.54 400.29,94.94 404.05,91.35 407.83,87.75 411.65,84.15 415.52,80.55 419.41,76.96 423.31,73.36 427.24,69.76 431.18,66.17 435.14,62.57 439.12,58.97 443.13,55.37 447.16,51.78 451.21,48.18 455.30,44.58 459.42,40.98 463.58,37.39 467.79,33.79 472.05,30.19 476.39,26.60 480.85,23.00 485.52,19.40 490.09,15.80 490.09,15.80 485.06,19.40 480.48,23.00 476.07,26.60 471.77,30.19 467.53,33.79 463.34,37.39 459.20,40.98 455.09,44.58 451.01,48.18 446.97,51.78 442.94,55.37 438.95,58.97 434.97,62.57 431.02,66.17 427.08,69.76 423.17,73.36 419.27,76.96 415.39,80.55 411.52,84.15 407.70,87.75 403.92,91.35 400.15,94.94 396.40,98.54 392.66,102.14 388.94,105.73 385.23,109.33 381.53,112.93 377.85,116.53 374.18,120.12 370.53,123.72 366.90,127.32 363.28,130.92 359.69,134.51 356.13,138.11 352.61,141.71 349.14,145.30 345.75,148.90 342.51,152.50 339.71,156.10" fill="#ff4300" stroke="#ff4300" stroke-width="0.15"/>
<polygon points="337.95,157.70 341.22,154.02 344.42,150.34 347.84,146.67 351.37,142.99 354.96,139.31 358.59,135.63 362.25,131.95 365.94,128.27 369.65,124.59 373.38,120.91 377.13,117.23 380.89,113.55 384.67,109.87 388.47,106.19 392.28,102.51 396.10,98.83 399.94,95.15 403.79,91.47 407.65,87.79 411.56,84.11 415.52,80.43 419.49,76.75 423.48,73.07 427.49,69.39 431.52,65.71 435.56,62.03 439.63,58.35 443.73,54.67 447.84,50.99 451.99,47.31 456.17,43.63 460.38,39.95 464.63,36.27 468.93,32.59 473.29,28.91 477.73,25.23 482.29,21.56 487.09,17.88 491.84,14.20 491.84,14.20 486.60,17.88 481.91,21.56 477.40,25.23 473.00,28.91 468.67,32.59 464.39,36.27 460.15,39.95 455.96,43.63 451.79,47.31 447.65,50.99 443.54,54.67 439.46,58.35 435.40,62.03 431.36,65.71 427.33,69.39 423.33,73.07 419.35,76.75 415.38,80.43 411.43,84.11 407.52,87.79 403.65,91.47 399.79,95.15 395.95,98.83 392.12,102.51 388.31,106.19 384.51,109.87 380.72,113.55 376.95,117.23 373.19,120.91 369.45,124.59 365.73,128.27 362.02,131.95 358.34,135.63 354.69,139.31 351.08,142.99 347.52,146.67 344.05,150.34 340.74,154.02 337.95,157.70" fill="#ff2500" stroke="#ff2500" stroke-width="0.15"/>
<polygon points="336.28,159.23 339.53,155.47 342.79,151.71 346.29,147.95 349.90,144.19 353.58,140.44 357.30,136.68 361.05,132.92 364.82,129.16 368.62,125.41 372.44,121.65 376.27,117.89 380.12,114.13 383.98,110.38 387.86,106.62 391.76,102.86 395.67,99.10 399.59,95.34 403.53,91.59 407.48,87.83 411.48,84.07 415.51,80.31 419.56,76.56 423.63,72.80 427.72,69.04 431.83,65.28 435.95,61.52 440.11,57.77 444.28,54.01 448.48,50.25 452.71,46.49 456.98,42.74 461.27,38.98 465.61,35.22 469.99,31.46 474.44,27.71 478.97,23.95 483.62,20.19 488.54,16.43 493.49,12.67 493.49,12.67 488.03,16.43 483.23,20.19 478.63,23.95 474.14,27.71 469.73,31.46 465.36,35.22 461.04,38.98 456.76,42.74 452.51,46.49 448.29,50.25 444.10,54.01 439.93,57.77 435.79,61.52 431.67,65.28 427.56,69.04 423.48,72.80 419.42,76.56 415.37,80.31 411.34,84.07 407.35,87.83 403.39,91.59 399.45,95.34 395.52,99.10 391.60,102.86 387.70,106.62 383.82,110.38 379.95,114.13 376.09,117.89 372.25,121.65 368.42,125.41 364.61,129.16 360.82,132.92 357.05,136.68 353.31,140.44 349.61,144.19 345.96,147.95 342.40,151.71 339.02,155.47 336.28,159.23" fill="#ff0700" stroke="#ff0700" stroke-width="0.15"/>
<polygon points="334.68,160.66 337.89,156.83 341.22,152.99 344.80,149.16 348.50,145.33 352.26,141.50 356.06,137.67 359.90,133.84 363.76,130.01 367.64,126.18 371.53,122.35 375.45,118.51 379.38,114.68 383.33,110.85 387.29,107.02 391.26,103.19 395.25,99.36 399.26,95.53 403.28,91.70 407.31,87.87 411.38,84.03 415.49,80.20 419.62,76.37 423.76,72.54 427.92,68.71 432.11,64.88 436.31,61.05 440.54,57.22 444.79,53.39 449.07,49.55 453.38,45.72 457.72,41.89 462.09,38.06 466.51,34.23 470.97,30.40 475.49,26.57 480.10,22.74 484.84,18.91 489.86,15.07 495.02,11.24 495.02,11.24 489.32,15.07 484.44,18.91 479.76,22.74 475.20,26.57 470.70,30.40 466.26,34.23 461.87,38.06 457.51,41.89 453.18,45.72 448.88,49.55 444.61,53.39 440.37,57.22 436.15,61.05 431.95,64.88 427.77,68.71 423.61,72.54 419.48,76.37 415.36,80.20 411.25,84.03 407.18,87.87 403.14,91.70 399.12,95.53 395.10,99.36 391.11,103.19 387.13,107.02 383.16,110.85 379.21,114.68 375.27,118.51 371.34,122.35 367.43,126.18 363.54,130.01 359.67,133.84 355.81,137.67 351.99,141.50 348.20,145.33 344.46,149.16 340.81,152.99 337.35,156.83 334.68,160.66" fill="#e80000" stroke="#e80000" stroke-width="0.15"/>
<polygon points="333.14,162.00 336.30,158.10 339.70,154.20 343.37,150.30 347.15,146.40 351.00,142.50 354.89,138.60 358.80,134.70 362.74,130.80 366.70,126.90 370.67,123.00 374.67,119.10 378.67,115.20 382.70,111.30 386.73,107.40 390.79,103.50 394.85,99.60 398.93,95.70 403.03,91.80 407.15,87.90 411.29,84.00 415.47,80.10 419.66,76.20 423.88,72.30 428.11,68.40 432.36,64.50 436.64,60.60 440.94,56.70 445.26,52.80 449.61,48.90 453.99,45.00 458.40,41.10 462.85,37.20 467.33,33.30 471.87,29.40 476.46,25.50 481.13,21.60 485.94,17.70 491.04,13.80 496.42,9.90 496.42,9.90 490.47,13.80 485.52,17.70 480.79,21.60 476.16,25.50 471.60,29.40 467.09,33.30 462.62,37.20 458.19,41.10 453.79,45.00 449.42,48.90 445.08,52.80 440.76,56.70 436.47,60.60 432.20,64.50 427.96,68.40 423.73,72.30 419.52,76.20 415.33,80.10 411.16,84.00 407.02,87.90 402.90,91.80 398.79,95.70 394.71,99.60 390.63,103.50 386.58,107.40 382.53,111.30 378.50,115.20 374.48,119.10 370.48,123.00 366.50,126.90 362.52,130.80 358.57,134.70 354.64,138.60 350.73,142.50 346.85,146.40 343.02,150.30 339.28,154.20 335.72,158.10 333.14,162.00" fill="#e50000" stroke="#e50000" stroke-width="0.15"/>
<polygon points="331.64,163.25 334.73,159.28 338.23,155.32 342.00,151.35 345.87,147.39 349.80,143.43 353.77,139.46 357.76,135.50 361.78,131.53 365.81,127.57 369.86,123.61 373.93,119.64 378.01,115.68 382.10,111.72 386.21,107.75 390.33,103.79 394.47,99.82 398.63,95.86 402.80,91.90 406.98,87.93 411.20,83.97 415.44,80.00 419.69,76.04 423.97,72.08 428.27,68.11 432.59,64.15 436.93,60.18 441.29,56.22 445.68,52.26 450.10,48.29 454.55,44.33 459.02,40.37 463.53,36.40 468.08,32.44 472.68,28.47 477.33,24.51 482.06,20.55 486.91,16.58 492.07,12.62 497.65,8.65 497.65,8.65 491.44,12.62 486.48,16.58 481.70,20.55 477.02,24.51 472.40,28.47 467.83,32.44 463.30,36.40 458.81,40.37 454.34,44.33 449.91,48.29 445.50,52.26 441.12,56.22 436.76,60.18 432.43,64.15 428.12,68.11 423.83,72.08 419.55,76.04 415.30,80.00 411.07,83.97 406.85,87.93 402.66,91.90 398.49,95.86 394.33,99.82 390.18,103.79 386.05,107.75 381.93,111.72 377.83,115.68 373.74,119.64 369.67,123.61 365.61,127.57 361.56,131.53 357.53,135.50 353.52,139.46 349.53,143.43 345.57,147.39 341.64,151.35 337.79,155.32 334.11,159.28 331.64,163.25" fill="#e50000" stroke="#e50000" stroke-width="0.15"/>
<polygon points="329.58,164.40 333.16,160.38 336.81,156.35 340.69,152.33 344.65,148.31 348.67,144.28 352.71,140.26 356.78,136.24 360.87,132.22 364.97,128.19 369.09,124.17 373.23,120.15 377.37,116.12 381.54,112.10 385.71,108.08 389.90,104.05 394.11,100.03 398.33,96.01 402.57,91.98 406.82,87.96 411.10,83.94 415.40,79.92 419.71,75.89 424.05,71.87 428.41,67.85 432.78,63.82 437.19,59.80 441.61,55.78 446.06,51.75 450.54,47.73 455.04,43.71 459.57,39.68 464.14,35.66 468.75,31.64 473.40,27.62 478.10,23.59 482.87,19.57 487.75,15.55 492.89,11.52 498.12,7.50 498.12,7.50 492.21,11.52 487.30,15.55 482.51,19.57 477.79,23.59 473.12,27.62 468.50,31.64 463.91,35.66 459.36,39.68 454.84,43.71 450.34,47.73 445.88,51.75 441.44,55.78 437.02,59.80 432.63,63.82 428.26,67.85 423.90,71.87 419.57,75.89 415.26,79.92 410.97,83.94 406.69,87.96 402.44,91.98 398.19,96.01 393.97,100.03 389.75,104.05 385.55,108.08 381.37,112.10 377.20,116.12 373.04,120.15 368.90,124.17 364.77,128.19 360.65,132.22 356.55,136.24 352.46,140.26 348.39,144.28 344.34,148.31 340.33,152.33 336.35,156.35 332.48,160.38 329.58,164.40" fill="#e50000" stroke="#e50000" stroke-width="0.15"/>
<line x1="329.60" y1="7.50" x2="329.60" y2="164.40" stroke="#8f8f8f" stroke-width="0.9" />
<line x1="329.60" y1="164.40" x2="498.10" y2="164.40" stroke="#8f8f8f" stroke-width="0.9" />
<line x1="342.13" y1="164.40" x2="342.13" y2="162.70" stroke="#8f8f8f" stroke-width="0.6" />
<text x="342.13" y="180.77" font-size="10.8" text-anchor="middle" font-family="'Liberation Sans', Arial, sans-serif" fill="#3a3a3a" stroke="#3a3a3a" stroke-width="0.18" >−<tspan dx="0.9">4</tspan></text>
<line x1="377.99" y1="164.40" x2="377.99" y2="162.70" stroke="#8f8f8f" stroke-width="0.6" />
<text x="377.99" y="180.77" font-size="10.8" text-anchor="middle" font-family="'Liberation Sans', Arial, sans-serif" fill="#3a3a3a" stroke="#3a3a3a" stroke-width="0.18" >−<tspan dx="0.9">2</tspan></text>
<line x1="413.85" y1="164.40" x2="413.85" y2="162.70" stroke="#8f8f8f" stroke-width="0.6" />
<text x="413.85" y="180.77" font-size="10.8" text-anchor="middle" font-family="'Liberation Sans', Arial, sans-serif" fill="#3a3a3a" stroke="#3a3a3a" stroke-width="0.18" >0</text>
<line x1="449.71" y1="164.40" x2="449.71" y2="162.70" stroke="#8f8f8f" stroke-width="0.6" />
<text x="449.71" y="180.77" font-size="10.8" text-anchor="middle" font-family="'Liberation Sans', Arial, sans-serif" fill="#3a3a3a" stroke="#3a3a3a" stroke-width="0.18" >2</text>
<line x1="485.57" y1="164.40" x2="485.57" y2="162.70" stroke="#8f8f8f" stroke-width="0.6" />
<text x="485.57" y="180.77" font-size="10.8" text-anchor="middle" font-family="'Liberation Sans', Arial, sans-serif" fill="#3a3a3a" stroke="#3a3a3a" stroke-width="0.18" >4</text>
<line x1="329.60" y1="128.26" x2="331.30" y2="128.26" stroke="#8f8f8f" stroke-width="0.6" />
<text x="325.60" y="132.92" font-size="10.8" text-anchor="end" font-family="'Liberation Sans', Arial, sans-serif" fill="#3a3a3a" stroke="#3a3a3a" stroke-width="0.18" >−<tspan dx="0.9">0.5</tspan></text>
<line x1="329.60" y1="85.95" x2="331.30" y2="85.95" stroke="#8f8f8f" stroke-width="0.6" />
<text x="325.60" y="90.62" font-size="10.8" text-anchor="end" font-family="'Liberation Sans', Arial, sans-serif" fill="#3a3a3a" stroke="#3a3a3a" stroke-width="0.18" >0</text>
<line x1="329.60" y1="43.64" x2="331.30" y2="43.64" stroke="#8f8f8f" stroke-width="0.6" />
<text x="325.60" y="48.31" font-size="10.8" text-anchor="end" font-family="'Liberation Sans', Arial, sans-serif" fill="#3a3a3a" stroke="#3a3a3a" stroke-width="0.18" >0.5</text>
<rect x="515.7" y="7.4" width="9.299999999999955" height="157.1" fill="url(#cbb)" stroke="#8f8f8f" stroke-width="0.7"/>
<line x1="523.50" y1="164.50" x2="525.00" y2="164.50" stroke="#8f8f8f" stroke-width="0.6" />
<text x="528.50" y="169.57" font-size="10.8" text-anchor="start" font-family="'Liberation Sans', Arial, sans-serif" fill="#3a3a3a" stroke="#3a3a3a" stroke-width="0.18" >0</text>
<line x1="523.50" y1="141.40" x2="525.00" y2="141.40" stroke="#8f8f8f" stroke-width="0.6" />
<text x="528.50" y="146.46" font-size="10.8" text-anchor="start" font-family="'Liberation Sans', Arial, sans-serif" fill="#3a3a3a" stroke="#3a3a3a" stroke-width="0.18" >10</text>
<line x1="523.50" y1="118.29" x2="525.00" y2="118.29" stroke="#8f8f8f" stroke-width="0.6" />
<text x="528.50" y="123.36" font-size="10.8" text-anchor="start" font-family="'Liberation Sans', Arial, sans-serif" fill="#3a3a3a" stroke="#3a3a3a" stroke-width="0.18" >20</text>
<line x1="523.50" y1="95.19" x2="525.00" y2="95.19" stroke="#8f8f8f" stroke-width="0.6" />
<text x="528.50" y="100.26" font-size="10.8" text-anchor="start" font-family="'Liberation Sans', Arial, sans-serif" fill="#3a3a3a" stroke="#3a3a3a" stroke-width="0.18" >30</text>
<line x1="523.50" y1="72.09" x2="525.00" y2="72.09" stroke="#8f8f8f" stroke-width="0.6" />
<text x="528.50" y="77.15" font-size="10.8" text-anchor="start" font-family="'Liberation Sans', Arial, sans-serif" fill="#3a3a3a" stroke="#3a3a3a" stroke-width="0.18" >40</text>
<line x1="523.50" y1="48.99" x2="525.00" y2="48.99" stroke="#8f8f8f" stroke-width="0.6" />
<text x="528.50" y="54.05" font-size="10.8" text-anchor="start" font-family="'Liberation Sans', Arial, sans-serif" fill="#3a3a3a" stroke="#3a3a3a" stroke-width="0.18" >50</text>
<line x1="523.50" y1="25.88" x2="525.00" y2="25.88" stroke="#8f8f8f" stroke-width="0.6" />
<text x="528.50" y="30.95" font-size="10.8" text-anchor="start" font-family="'Liberation Sans', Arial, sans-serif" fill="#3a3a3a" stroke="#3a3a3a" stroke-width="0.18" >60</text>
<line x1="57.00" y1="263.60" x2="57.00" y2="422.50" stroke="#ececec" stroke-width="0.8" />
<line x1="93.30" y1="263.60" x2="93.30" y2="422.50" stroke="#ececec" stroke-width="0.8" />
<line x1="129.60" y1="263.60" x2="129.60" y2="422.50" stroke="#ececec" stroke-width="0.8" />
<line x1="165.90" y1="263.60" x2="165.90" y2="422.50" stroke="#ececec" stroke-width="0.8" />
<line x1="202.20" y1="263.60" x2="202.20" y2="422.50" stroke="#ececec" stroke-width="0.8" />
<line x1="44.30" y1="399.13" x2="214.90" y2="399.13" stroke="#ececec" stroke-width="0.8" />
<line x1="44.30" y1="375.76" x2="214.90" y2="375.76" stroke="#ececec" stroke-width="0.8" />
<line x1="44.30" y1="352.40" x2="214.90" y2="352.40" stroke="#ececec" stroke-width="0.8" />
<line x1="44.30" y1="329.03" x2="214.90" y2="329.03" stroke="#ececec" stroke-width="0.8" />
<line x1="44.30" y1="305.66" x2="214.90" y2="305.66" stroke="#ececec" stroke-width="0.8" />
<line x1="44.30" y1="282.29" x2="214.90" y2="282.29" stroke="#ececec" stroke-width="0.8" />
<polygon points="129.60,422.50 131.21,420.16 132.81,417.83 134.42,415.49 136.02,413.15 137.62,410.82 139.22,408.48 140.81,406.14 142.40,403.81 143.99,401.47 145.58,399.13 147.16,396.80 148.73,394.46 150.30,392.12 151.86,389.79 153.41,387.45 154.96,385.11 156.50,382.77 158.03,380.44 159.55,378.10 161.07,375.76 162.57,373.43 164.07,371.09 165.55,368.75 167.02,366.42 168.48,364.08 169.93,361.74 171.37,359.41 172.79,357.07 174.20,354.73 175.60,352.40 176.99,350.06 178.35,347.72 179.71,345.39 181.05,343.05 182.37,340.71 183.68,338.38 184.97,336.04 186.24,333.70 187.50,331.37 188.74,329.03 189.96,326.69 191.16,324.36 192.35,322.02 193.51,319.68 194.66,317.35 195.78,315.01 196.89,312.67 197.97,310.34 199.04,308.00 200.08,305.66 201.10,303.33 202.10,300.99 203.08,298.65 204.03,296.31 204.97,293.98 205.88,291.64 206.76,289.30 207.62,286.97 208.46,284.63 209.28,282.29 210.07,279.96 210.84,277.62 211.58,275.28 212.29,272.95 212.98,270.61 213.65,268.27 214.29,265.94 214.90,263.60 44.30,263.60 44.91,265.94 45.55,268.27 46.22,270.61 46.91,272.95 47.62,275.28 48.36,277.62 49.13,279.96 49.92,282.29 50.74,284.63 51.58,286.97 52.44,289.30 53.32,291.64 54.23,293.98 55.17,296.31 56.12,298.65 57.10,300.99 58.10,303.33 59.12,305.66 60.16,308.00 61.23,310.34 62.31,312.67 63.42,315.01 64.54,317.35 65.69,319.68 66.85,322.02 68.04,324.36 69.24,326.69 70.46,329.03 71.70,331.37 72.96,333.70 74.23,336.04 75.52,338.38 76.83,340.71 78.15,343.05 79.49,345.39 80.85,347.72 82.21,350.06 83.60,352.40 85.00,354.73 86.41,357.07 87.83,359.41 89.27,361.74 90.72,364.08 92.18,366.42 93.65,368.75 95.13,371.09 96.63,373.43 98.13,375.76 99.65,378.10 101.17,380.44 102.70,382.77 104.24,385.11 105.79,387.45 107.34,389.79 108.90,392.12 110.47,394.46 112.04,396.80 113.62,399.13 115.21,401.47 116.80,403.81 118.39,406.14 119.98,408.48 121.58,410.82 123.18,413.15 124.78,415.49 126.39,417.83 127.99,420.16 129.60,422.50" fill="url(#gc)"/>
<line x1="44.30" y1="263.60" x2="44.30" y2="422.50" stroke="#8f8f8f" stroke-width="0.9" />
<line x1="44.30" y1="422.50" x2="214.90" y2="422.50" stroke="#8f8f8f" stroke-width="0.9" />
<line x1="57.00" y1="422.50" x2="57.00" y2="420.80" stroke="#8f8f8f" stroke-width="0.6" />
<text x="57.00" y="437.87" font-size="10.8" text-anchor="middle" font-family="'Liberation Sans', Arial, sans-serif" fill="#3a3a3a" stroke="#3a3a3a" stroke-width="0.18" >−<tspan dx="0.9">4</tspan></text>
<line x1="93.30" y1="422.50" x2="93.30" y2="420.80" stroke="#8f8f8f" stroke-width="0.6" />
<text x="93.30" y="437.87" font-size="10.8" text-anchor="middle" font-family="'Liberation Sans', Arial, sans-serif" fill="#3a3a3a" stroke="#3a3a3a" stroke-width="0.18" >−<tspan dx="0.9">2</tspan></text>
<line x1="129.60" y1="422.50" x2="129.60" y2="420.80" stroke="#8f8f8f" stroke-width="0.6" />
<text x="129.60" y="437.87" font-size="10.8" text-anchor="middle" font-family="'Liberation Sans', Arial, sans-serif" fill="#3a3a3a" stroke="#3a3a3a" stroke-width="0.18" >0</text>
<line x1="165.90" y1="422.50" x2="165.90" y2="420.80" stroke="#8f8f8f" stroke-width="0.6" />
<text x="165.90" y="437.87" font-size="10.8" text-anchor="middle" font-family="'Liberation Sans', Arial, sans-serif" fill="#3a3a3a" stroke="#3a3a3a" stroke-width="0.18" >2</text>
<line x1="202.20" y1="422.50" x2="202.20" y2="420.80" stroke="#8f8f8f" stroke-width="0.6" />
<text x="202.20" y="437.87" font-size="10.8" text-anchor="middle" font-family="'Liberation Sans', Arial, sans-serif" fill="#3a3a3a" stroke="#3a3a3a" stroke-width="0.18" >4</text>
<line x1="44.30" y1="422.50" x2="46.00" y2="422.50" stroke="#8f8f8f" stroke-width="0.6" />
<text x="40.20" y="427.17" font-size="10.8" text-anchor="end" font-family="'Liberation Sans', Arial, sans-serif" fill="#3a3a3a" stroke="#3a3a3a" stroke-width="0.18" >0</text>
<line x1="44.30" y1="399.13" x2="46.00" y2="399.13" stroke="#8f8f8f" stroke-width="0.6" />
<text x="40.20" y="403.80" font-size="10.8" text-anchor="end" font-family="'Liberation Sans', Arial, sans-serif" fill="#3a3a3a" stroke="#3a3a3a" stroke-width="0.18" >10</text>
<line x1="44.30" y1="375.76" x2="46.00" y2="375.76" stroke="#8f8f8f" stroke-width="0.6" />
<text x="40.20" y="380.43" font-size="10.8" text-anchor="end" font-family="'Liberation Sans', Arial, sans-serif" fill="#3a3a3a" stroke="#3a3a3a" stroke-width="0.18" >20</text>
<line x1="44.30" y1="352.40" x2="46.00" y2="352.40" stroke="#8f8f8f" stroke-width="0.6" />
<text x="40.20" y="357.06" font-size="10.8" text-anchor="end" font-family="'Liberation Sans', Arial, sans-serif" fill="#3a3a3a" stroke="#3a3a3a" stroke-width="0.18" >30</text>
<line x1="44.30" y1="329.03" x2="46.00" y2="329.03" stroke="#8f8f8f" stroke-width="0.6" />
<text x="40.20" y="333.70" font-size="10.8" text-anchor="end" font-family="'Liberation Sans', Arial, sans-serif" fill="#3a3a3a" stroke="#3a3a3a" stroke-width="0.18" >40</text>
<line x1="44.30" y1="305.66" x2="46.00" y2="305.66" stroke="#8f8f8f" stroke-width="0.6" />
<text x="40.20" y="310.33" font-size="10.8" text-anchor="end" font-family="'Liberation Sans', Arial, sans-serif" fill="#3a3a3a" stroke="#3a3a3a" stroke-width="0.18" >50</text>
<line x1="44.30" y1="282.29" x2="46.00" y2="282.29" stroke="#8f8f8f" stroke-width="0.6" />
<text x="40.20" y="286.96" font-size="10.8" text-anchor="end" font-family="'Liberation Sans', Arial, sans-serif" fill="#3a3a3a" stroke="#3a3a3a" stroke-width="0.18" >60</text>
<rect x="232.2" y="263.7" width="9.800000000000011" height="158.8" fill="url(#cbc)" stroke="#8f8f8f" stroke-width="0.7"/>
<line x1="240.50" y1="385.92" x2="242.00" y2="385.92" stroke="#8f8f8f" stroke-width="0.6" />
<text x="246.00" y="390.98" font-size="10.8" text-anchor="start" font-family="'Liberation Sans', Arial, sans-serif" fill="#3a3a3a" stroke="#3a3a3a" stroke-width="0.18" >−<tspan dx="0.9">0.5</tspan></text>
<line x1="240.50" y1="343.10" x2="242.00" y2="343.10" stroke="#8f8f8f" stroke-width="0.6" />
<text x="246.00" y="348.17" font-size="10.8" text-anchor="start" font-family="'Liberation Sans', Arial, sans-serif" fill="#3a3a3a" stroke="#3a3a3a" stroke-width="0.18" >0</text>
<line x1="240.50" y1="300.28" x2="242.00" y2="300.28" stroke="#8f8f8f" stroke-width="0.6" />
<text x="246.00" y="305.35" font-size="10.8" text-anchor="start" font-family="'Liberation Sans', Arial, sans-serif" fill="#3a3a3a" stroke="#3a3a3a" stroke-width="0.18" >0.5</text>
<line x1="378.28" y1="264.00" x2="378.28" y2="422.60" stroke="#ececec" stroke-width="0.8" />
<line x1="428.16" y1="264.00" x2="428.16" y2="422.60" stroke="#ececec" stroke-width="0.8" />
<line x1="478.05" y1="264.00" x2="478.05" y2="422.60" stroke="#ececec" stroke-width="0.8" />
<line x1="328.40" y1="386.06" x2="498.00" y2="386.06" stroke="#ececec" stroke-width="0.8" />
<line x1="328.40" y1="343.30" x2="498.00" y2="343.30" stroke="#ececec" stroke-width="0.8" />
<line x1="328.40" y1="300.54" x2="498.00" y2="300.54" stroke="#ececec" stroke-width="0.8" />
<polygon points="328.40,343.30 330.89,341.81 333.39,340.32 335.88,338.82 338.38,337.33 340.87,335.85 343.36,334.36 345.86,332.88 348.35,331.40 350.85,329.92 353.34,328.45 355.84,326.98 358.33,325.52 360.82,324.06 363.32,322.61 365.81,321.16 368.31,319.73 370.80,318.29 373.29,316.87 375.79,315.45 378.28,314.05 380.78,312.65 383.27,311.26 385.76,309.88 388.26,308.51 390.75,307.15 393.25,305.81 395.74,304.47 398.24,303.15 400.73,301.84 403.22,300.54 405.72,299.25 408.21,297.98 410.71,296.72 413.20,295.47 415.69,294.24 418.19,293.03 420.68,291.83 423.18,290.64 425.67,289.48 428.16,288.32 430.66,287.19 433.15,286.07 435.65,284.97 438.14,283.89 440.64,282.82 443.13,281.78 445.62,280.75 448.12,279.74 450.61,278.75 453.11,277.78 455.60,276.83 458.09,275.90 460.59,274.99 463.08,274.11 465.58,273.24 468.07,272.39 470.56,271.57 473.06,270.77 475.55,269.99 478.05,269.23 480.54,268.50 483.04,267.78 485.53,267.09 488.02,266.43 490.52,265.79 493.01,265.17 495.51,264.57 498.00,264.00 498.00,422.60 495.51,422.03 493.01,421.43 490.52,420.81 488.02,420.17 485.53,419.51 483.04,418.82 480.54,418.10 478.05,417.37 475.55,416.61 473.06,415.83 470.56,415.03 468.07,414.21 465.58,413.36 463.08,412.49 460.59,411.61 458.09,410.70 455.60,409.77 453.11,408.82 450.61,407.85 448.12,406.86 445.62,405.85 443.13,404.82 440.64,403.78 438.14,402.71 435.65,401.63 433.15,400.53 430.66,399.41 428.16,398.28 425.67,397.12 423.18,395.96 420.68,394.77 418.19,393.57 415.69,392.36 413.20,391.13 410.71,389.88 408.21,388.62 405.72,387.35 403.22,386.06 400.73,384.76 398.24,383.45 395.74,382.13 393.25,380.79 390.75,379.45 388.26,378.09 385.76,376.72 383.27,375.34 380.78,373.95 378.28,372.55 375.79,371.15 373.29,369.73 370.80,368.31 368.31,366.87 365.81,365.44 363.32,363.99 360.82,362.54 358.33,361.08 355.84,359.62 353.34,358.15 350.85,356.68 348.35,355.20 345.86,353.72 343.36,352.24 340.87,350.75 338.38,349.27 335.88,347.78 333.39,346.28 330.89,344.79 328.40,343.30" fill="url(#gd)"/>
<line x1="328.40" y1="264.00" x2="328.40" y2="422.60" stroke="#8f8f8f" stroke-width="0.9" />
<line x1="328.40" y1="422.60" x2="498.00" y2="422.60" stroke="#8f8f8f" stroke-width="0.9" />
<line x1="328.40" y1="422.60" x2="328.40" y2="420.90" stroke="#8f8f8f" stroke-width="0.6" />
<text x="328.40" y="437.47" font-size="10.8" text-anchor="middle" font-family="'Liberation Sans', Arial, sans-serif" fill="#3a3a3a" stroke="#3a3a3a" stroke-width="0.18" >0</text>
<line x1="378.28" y1="422.60" x2="378.28" y2="420.90" stroke="#8f8f8f" stroke-width="0.6" />
<text x="378.28" y="437.47" font-size="10.8" text-anchor="middle" font-family="'Liberation Sans', Arial, sans-serif" fill="#3a3a3a" stroke="#3a3a3a" stroke-width="0.18" >20</text>
<line x1="428.16" y1="422.60" x2="428.16" y2="420.90" stroke="#8f8f8f" stroke-width="0.6" />
<text x="428.16" y="437.47" font-size="10.8" text-anchor="middle" font-family="'Liberation Sans', Arial, sans-serif" fill="#3a3a3a" stroke="#3a3a3a" stroke-width="0.18" >40</text>
<line x1="478.05" y1="422.60" x2="478.05" y2="420.90" stroke="#8f8f8f" stroke-width="0.6" />
<text x="478.05" y="437.47" font-size="10.8" text-anchor="middle" font-family="'Liberation Sans', Arial, sans-serif" fill="#3a3a3a" stroke="#3a3a3a" stroke-width="0.18" >60</text>
<line x1="328.40" y1="386.06" x2="330.10" y2="386.06" stroke="#8f8f8f" stroke-width="0.6" />
<text x="324.00" y="390.73" font-size="10.8" text-anchor="end" font-family="'Liberation Sans', Arial, sans-serif" fill="#3a3a3a" stroke="#3a3a3a" stroke-width="0.18" >−<tspan dx="0.9">0.5</tspan></text>
<line x1="328.40" y1="343.30" x2="330.10" y2="343.30" stroke="#8f8f8f" stroke-width="0.6" />
<text x="324.00" y="347.97" font-size="10.8" text-anchor="end" font-family="'Liberation Sans', Arial, sans-serif" fill="#3a3a3a" stroke="#3a3a3a" stroke-width="0.18" >0</text>
<line x1="328.40" y1="300.54" x2="330.10" y2="300.54" stroke="#8f8f8f" stroke-width="0.6" />
<text x="324.00" y="305.20" font-size="10.8" text-anchor="end" font-family="'Liberation Sans', Arial, sans-serif" fill="#3a3a3a" stroke="#3a3a3a" stroke-width="0.18" >0.5</text>
<rect x="515.8" y="263.8" width="9.600000000000023" height="158.7" fill="url(#cbd)" stroke="#8f8f8f" stroke-width="0.7"/>
<line x1="523.90" y1="410.68" x2="525.40" y2="410.68" stroke="#8f8f8f" stroke-width="0.6" />
<text x="528.60" y="415.75" font-size="10.8" text-anchor="start" font-family="'Liberation Sans', Arial, sans-serif" fill="#3a3a3a" stroke="#3a3a3a" stroke-width="0.18" >−<tspan dx="0.9">4</tspan></text>
<line x1="523.90" y1="376.92" x2="525.40" y2="376.92" stroke="#8f8f8f" stroke-width="0.6" />
<text x="528.60" y="381.98" font-size="10.8" text-anchor="start" font-family="'Liberation Sans', Arial, sans-serif" fill="#3a3a3a" stroke="#3a3a3a" stroke-width="0.18" >−<tspan dx="0.9">2</tspan></text>
<line x1="523.90" y1="343.15" x2="525.40" y2="343.15" stroke="#8f8f8f" stroke-width="0.6" />
<text x="528.60" y="348.22" font-size="10.8" text-anchor="start" font-family="'Liberation Sans', Arial, sans-serif" fill="#3a3a3a" stroke="#3a3a3a" stroke-width="0.18" >0</text>
<line x1="523.90" y1="309.38" x2="525.40" y2="309.38" stroke="#8f8f8f" stroke-width="0.6" />
<text x="528.60" y="314.45" font-size="10.8" text-anchor="start" font-family="'Liberation Sans', Arial, sans-serif" fill="#3a3a3a" stroke="#3a3a3a" stroke-width="0.18" >2</text>
<line x1="523.90" y1="275.62" x2="525.40" y2="275.62" stroke="#8f8f8f" stroke-width="0.6" />
<text x="528.60" y="280.68" font-size="10.8" text-anchor="start" font-family="'Liberation Sans', Arial, sans-serif" fill="#3a3a3a" stroke="#3a3a3a" stroke-width="0.18" >4</text>
<line x1="129.10" y1="161.46" x2="56.10" y2="121.86" stroke="#ececec" stroke-width="0.7" />
<line x1="149.40" y1="155.33" x2="76.40" y2="115.73" stroke="#ececec" stroke-width="0.7" />
<line x1="169.70" y1="149.20" x2="96.70" y2="109.60" stroke="#ececec" stroke-width="0.7" />
<line x1="190.00" y1="143.07" x2="117.00" y2="103.47" stroke="#ececec" stroke-width="0.7" />
<line x1="210.30" y1="136.94" x2="137.30" y2="97.34" stroke="#ececec" stroke-width="0.7" />
<line x1="105.18" y1="154.48" x2="200.58" y2="125.68" stroke="#ececec" stroke-width="0.7" />
<line x1="85.50" y1="143.80" x2="180.90" y2="115.00" stroke="#ececec" stroke-width="0.7" />
<line x1="65.82" y1="133.12" x2="161.22" y2="104.32" stroke="#ececec" stroke-width="0.7" />
<line x1="56.10" y1="121.86" x2="56.10" y2="35.16" stroke="#ececec" stroke-width="0.7" />
<line x1="76.40" y1="115.73" x2="76.40" y2="29.03" stroke="#ececec" stroke-width="0.7" />
<line x1="96.70" y1="109.60" x2="96.70" y2="22.90" stroke="#ececec" stroke-width="0.7" />
<line x1="117.00" y1="103.47" x2="117.00" y2="16.77" stroke="#ececec" stroke-width="0.7" />
<line x1="137.30" y1="97.34" x2="137.30" y2="10.64" stroke="#ececec" stroke-width="0.7" />
<line x1="49.00" y1="124.00" x2="144.40" y2="95.20" stroke="#ececec" stroke-width="0.7" />
<line x1="49.00" y1="98.50" x2="144.40" y2="69.70" stroke="#ececec" stroke-width="0.7" />
<line x1="49.00" y1="73.00" x2="144.40" y2="44.20" stroke="#ececec" stroke-width="0.7" />
<line x1="49.00" y1="47.50" x2="144.40" y2="18.70" stroke="#ececec" stroke-width="0.7" />
<line x1="200.58" y1="125.68" x2="200.58" y2="38.98" stroke="#ececec" stroke-width="0.7" />
<line x1="180.90" y1="115.00" x2="180.90" y2="28.30" stroke="#ececec" stroke-width="0.7" />
<line x1="161.22" y1="104.32" x2="161.22" y2="17.62" stroke="#ececec" stroke-width="0.7" />
<line x1="217.40" y1="134.80" x2="144.40" y2="95.20" stroke="#ececec" stroke-width="0.7" />
<line x1="217.40" y1="109.30" x2="144.40" y2="69.70" stroke="#ececec" stroke-width="0.7" />
<line x1="217.40" y1="83.80" x2="144.40" y2="44.20" stroke="#ececec" stroke-width="0.7" />
<line x1="217.40" y1="58.30" x2="144.40" y2="18.70" stroke="#ececec" stroke-width="0.7" />
<g opacity="0.5">
<polygon points="132.79,130.68 132.82,130.59 132.85,130.51 132.88,130.42 132.90,130.33 132.93,130.24 132.96,130.15 132.99,130.06 133.02,129.98 133.04,129.89 133.07,129.80 133.10,129.71 133.13,129.62 133.16,129.53 133.19,129.44 133.21,129.36 133.24,129.27 133.27,129.18 133.30,129.09 133.33,129.00 133.36,128.91 133.38,128.82 133.41,128.74 133.44,128.65 133.47,128.56 133.50,128.47 133.53,128.38 133.55,128.29 133.58,128.20 133.61,128.12 133.61,128.12 133.57,128.21 133.54,128.30 133.50,128.39 133.47,128.48 133.43,128.57 133.40,128.66 133.36,128.75 133.33,128.84 133.29,128.93 133.26,129.02 133.23,129.11 133.19,129.20 133.16,129.29 133.12,129.38 133.10,129.47 133.07,129.56 133.05,129.65 133.03,129.73 133.01,129.82 132.98,129.91 132.96,129.99 132.94,130.08 132.92,130.17 132.89,130.25 132.87,130.34 132.85,130.43 132.83,130.51 132.81,130.60 132.79,130.68" fill="#00008e" stroke="#00008e" stroke-width="0.1"/>
<polygon points="132.39,131.96 132.44,131.79 132.50,131.61 132.55,131.43 132.61,131.26 132.67,131.08 132.72,130.90 132.78,130.73 132.82,130.55 132.86,130.38 132.91,130.21 132.95,130.04 132.99,129.86 133.04,129.69 133.08,129.51 133.14,129.34 133.21,129.16 133.28,128.98 133.34,128.80 133.41,128.62 133.48,128.44 133.55,128.25 133.62,128.07 133.68,127.90 133.74,127.72 133.79,127.54 133.85,127.36 133.91,127.19 133.96,127.01 134.02,126.83 134.02,126.83 133.95,127.02 133.88,127.20 133.81,127.38 133.74,127.56 133.67,127.74 133.60,127.92 133.53,128.10 133.46,128.28 133.40,128.46 133.33,128.64 133.26,128.82 133.20,129.00 133.13,129.18 133.07,129.36 133.01,129.54 132.96,129.71 132.92,129.89 132.87,130.06 132.82,130.23 132.78,130.41 132.73,130.58 132.69,130.75 132.64,130.93 132.60,131.10 132.55,131.27 132.51,131.45 132.47,131.62 132.42,131.79 132.39,131.96" fill="#0000ac" stroke="#0000ac" stroke-width="0.1"/>
<polygon points="131.98,133.24 132.07,132.98 132.15,132.71 132.23,132.45 132.32,132.18 132.39,131.92 132.46,131.66 132.52,131.40 132.59,131.14 132.65,130.88 132.72,130.62 132.79,130.36 132.86,130.10 132.93,129.84 133.00,129.58 133.08,129.32 133.18,129.05 133.28,128.78 133.38,128.51 133.48,128.24 133.58,127.97 133.68,127.70 133.79,127.43 133.89,127.15 134.00,126.88 134.09,126.61 134.18,126.35 134.26,126.08 134.35,125.82 134.43,125.55 134.43,125.55 134.32,125.83 134.22,126.10 134.11,126.37 134.01,126.64 133.91,126.91 133.81,127.18 133.70,127.45 133.60,127.72 133.51,127.99 133.41,128.26 133.31,128.53 133.21,128.80 133.11,129.07 133.01,129.34 132.93,129.60 132.86,129.86 132.79,130.12 132.72,130.38 132.65,130.65 132.58,130.91 132.51,131.17 132.44,131.43 132.37,131.69 132.30,131.95 132.23,132.21 132.17,132.47 132.10,132.73 132.04,132.99 131.98,133.24" fill="#0000cb" stroke="#0000cb" stroke-width="0.1"/>
<polygon points="131.58,134.51 131.69,134.16 131.80,133.81 131.91,133.46 132.01,133.11 132.09,132.76 132.18,132.42 132.27,132.07 132.36,131.73 132.45,131.38 132.54,131.03 132.63,130.69 132.73,130.34 132.82,129.99 132.92,129.64 133.03,129.29 133.16,128.93 133.29,128.58 133.42,128.22 133.55,127.86 133.69,127.50 133.82,127.14 133.96,126.78 134.09,126.42 134.23,126.06 134.37,125.70 134.50,125.34 134.62,124.98 134.73,124.63 134.85,124.28 134.85,124.28 134.70,124.64 134.56,125.00 134.42,125.36 134.28,125.72 134.15,126.08 134.01,126.44 133.88,126.80 133.75,127.16 133.61,127.52 133.48,127.88 133.35,128.24 133.22,128.60 133.09,128.95 132.96,129.31 132.85,129.66 132.76,130.01 132.66,130.36 132.56,130.71 132.47,131.06 132.38,131.40 132.28,131.75 132.19,132.10 132.10,132.44 132.01,132.79 131.92,133.14 131.83,133.48 131.74,133.83 131.66,134.17 131.58,134.51" fill="#0000e8" stroke="#0000e8" stroke-width="0.1"/>
<polygon points="131.18,135.78 131.32,135.34 131.46,134.90 131.59,134.46 131.69,134.04 131.80,133.60 131.91,133.17 132.02,132.74 132.13,132.31 132.25,131.88 132.36,131.44 132.48,131.01 132.60,130.58 132.72,130.14 132.84,129.71 132.98,129.27 133.14,128.82 133.30,128.37 133.46,127.93 133.63,127.48 133.79,127.03 133.96,126.58 134.13,126.13 134.30,125.69 134.47,125.24 134.64,124.79 134.82,124.33 134.97,123.89 135.12,123.45 135.26,123.01 135.26,123.01 135.07,123.46 134.90,123.91 134.72,124.36 134.55,124.81 134.38,125.26 134.22,125.71 134.05,126.16 133.89,126.61 133.72,127.05 133.56,127.50 133.40,127.95 133.24,128.39 133.08,128.84 132.92,129.29 132.78,129.73 132.66,130.16 132.53,130.60 132.41,131.03 132.30,131.46 132.18,131.90 132.06,132.33 131.94,132.76 131.83,133.20 131.72,133.63 131.60,134.06 131.49,134.49 131.39,134.92 131.28,135.35 131.18,135.78" fill="#0007ff" stroke="#0007ff" stroke-width="0.1"/>
<polygon points="130.79,137.04 130.96,136.51 131.12,135.99 131.25,135.47 131.38,134.95 131.51,134.44 131.64,133.92 131.77,133.40 131.91,132.89 132.05,132.37 132.19,131.85 132.33,131.33 132.48,130.81 132.62,130.29 132.76,129.77 132.93,129.24 133.12,128.71 133.32,128.17 133.51,127.64 133.70,127.10 133.90,126.57 134.10,126.03 134.30,125.49 134.50,124.96 134.70,124.42 134.91,123.88 135.12,123.34 135.33,122.80 135.50,122.27 135.67,121.74 135.67,121.74 135.45,122.29 135.24,122.83 135.03,123.37 134.82,123.91 134.62,124.44 134.42,124.98 134.22,125.52 134.03,126.05 133.83,126.59 133.64,127.12 133.44,127.66 133.25,128.19 133.06,128.73 132.87,129.26 132.70,129.79 132.56,130.31 132.41,130.83 132.27,131.35 132.12,131.87 131.98,132.39 131.84,132.91 131.70,133.43 131.56,133.95 131.43,134.46 131.29,134.98 131.16,135.50 131.03,136.01 130.90,136.53 130.79,137.04" fill="#0025ff" stroke="#0025ff" stroke-width="0.1"/>
<polygon points="130.40,138.29 130.59,137.67 130.78,137.06 130.92,136.47 131.07,135.87 131.22,135.27 131.37,134.67 131.53,134.06 131.69,133.46 131.85,132.86 132.02,132.25 132.18,131.65 132.35,131.04 132.52,130.44 132.69,129.83 132.89,129.22 133.11,128.60 133.33,127.97 133.55,127.35 133.78,126.73 134.01,126.11 134.24,125.48 134.47,124.86 134.70,124.23 134.94,123.61 135.18,122.98 135.42,122.35 135.68,121.72 135.88,121.10 136.09,120.49 136.09,120.49 135.82,121.12 135.58,121.75 135.33,122.38 135.09,123.01 134.86,123.63 134.62,124.26 134.39,124.88 134.16,125.50 133.94,126.13 133.71,126.75 133.49,127.37 133.27,127.99 133.05,128.61 132.83,129.24 132.63,129.85 132.46,130.46 132.29,131.06 132.12,131.67 131.95,132.27 131.79,132.88 131.62,133.48 131.46,134.09 131.30,134.69 131.14,135.29 130.98,135.89 130.83,136.49 130.68,137.09 130.53,137.69 130.40,138.29" fill="#0043ff" stroke="#0043ff" stroke-width="0.1"/>
<polygon points="130.02,139.52 130.23,138.83 130.43,138.13 130.59,137.45 130.76,136.77 130.93,136.09 131.11,135.40 131.29,134.72 131.47,134.03 131.66,133.34 131.85,132.65 132.04,131.96 132.23,131.27 132.42,130.58 132.62,129.89 132.84,129.19 133.09,128.48 133.34,127.78 133.60,127.07 133.85,126.36 134.11,125.65 134.37,124.94 134.64,124.23 134.90,123.52 135.17,122.80 135.45,122.09 135.72,121.37 136.01,120.65 136.26,119.94 136.50,119.24 136.50,119.24 136.20,119.97 135.91,120.68 135.63,121.40 135.36,122.11 135.09,122.83 134.83,123.54 134.56,124.25 134.30,124.96 134.04,125.67 133.79,126.38 133.53,127.09 133.28,127.80 133.03,128.50 132.78,129.21 132.56,129.91 132.36,130.60 132.17,131.29 131.97,131.98 131.78,132.67 131.59,133.36 131.40,134.05 131.22,134.74 131.03,135.42 130.85,136.11 130.67,136.80 130.50,137.48 130.33,138.16 130.16,138.85 130.02,139.52" fill="#0062ff" stroke="#0062ff" stroke-width="0.1"/>
<polygon points="129.64,140.75 129.88,139.97 130.08,139.20 130.26,138.43 130.45,137.67 130.65,136.90 130.85,136.13 131.05,135.36 131.26,134.59 131.47,133.82 131.68,133.05 131.89,132.27 132.11,131.50 132.33,130.73 132.55,129.95 132.80,129.17 133.08,128.37 133.36,127.58 133.64,126.79 133.93,125.99 134.22,125.20 134.51,124.40 134.80,123.60 135.10,122.81 135.40,122.01 135.71,121.20 136.02,120.40 136.35,119.60 136.64,118.80 136.91,118.01 136.91,118.01 136.57,118.82 136.25,119.63 135.93,120.43 135.63,121.23 135.32,122.03 135.03,122.83 134.73,123.63 134.44,124.42 134.15,125.22 133.86,126.01 133.58,126.81 133.30,127.60 133.02,128.39 132.74,129.18 132.49,129.97 132.27,130.74 132.05,131.52 131.83,132.29 131.61,133.07 131.40,133.84 131.19,134.61 130.98,135.38 130.77,136.15 130.57,136.92 130.37,137.69 130.17,138.46 129.98,139.23 129.80,139.99 129.64,140.75" fill="#0080ff" stroke="#0080ff" stroke-width="0.1"/>
<polygon points="129.26,141.96 129.53,141.09 129.74,140.24 129.94,139.40 130.15,138.55 130.37,137.70 130.59,136.85 130.81,136.00 131.04,135.15 131.28,134.29 131.51,133.44 131.75,132.58 131.99,131.73 132.23,130.87 132.48,130.01 132.76,129.14 133.06,128.27 133.37,127.39 133.68,126.51 134.00,125.63 134.32,124.75 134.64,123.87 134.97,122.99 135.30,122.10 135.63,121.22 135.97,120.33 136.32,119.44 136.68,118.55 137.02,117.66 137.31,116.79 137.31,116.79 136.93,117.69 136.58,118.58 136.23,119.47 135.89,120.36 135.55,121.24 135.22,122.13 134.90,123.01 134.57,123.89 134.25,124.77 133.94,125.65 133.62,126.53 133.31,127.41 133.00,128.28 132.70,129.16 132.42,130.03 132.17,130.89 131.93,131.74 131.69,132.60 131.45,133.46 131.21,134.31 130.97,135.17 130.74,136.02 130.51,136.88 130.29,137.73 130.07,138.58 129.85,139.43 129.64,140.27 129.44,141.12 129.26,141.96" fill="#009eff" stroke="#009eff" stroke-width="0.1"/>
<polygon points="128.89,143.15 129.18,142.21 129.40,141.28 129.62,140.36 129.85,139.43 130.09,138.50 130.33,137.57 130.58,136.63 130.83,135.70 131.09,134.76 131.34,133.82 131.61,132.89 131.87,131.95 132.14,131.01 132.41,130.07 132.71,129.12 133.05,128.16 133.39,127.20 133.73,126.24 134.07,125.27 134.42,124.31 134.77,123.34 135.13,122.38 135.49,121.41 135.86,120.44 136.23,119.47 136.61,118.49 137.00,117.52 137.40,116.54 137.72,115.58 137.72,115.58 137.30,116.57 136.90,117.55 136.52,118.52 136.15,119.49 135.78,120.46 135.42,121.43 135.06,122.40 134.70,123.36 134.35,124.33 134.01,125.29 133.67,126.25 133.33,127.21 132.99,128.18 132.66,129.13 132.35,130.08 132.08,131.03 131.81,131.97 131.54,132.91 131.28,133.84 131.02,134.78 130.76,135.72 130.51,136.65 130.26,137.59 130.01,138.52 129.77,139.45 129.53,140.38 129.30,141.31 129.08,142.24 128.89,143.15" fill="#00bcff" stroke="#00bcff" stroke-width="0.1"/>
<polygon points="128.52,144.33 128.84,143.30 129.07,142.30 129.31,141.30 129.56,140.29 129.81,139.28 130.08,138.27 130.35,137.25 130.62,136.24 130.90,135.22 131.18,134.21 131.47,133.19 131.75,132.17 132.05,131.15 132.34,130.12 132.67,129.09 133.03,128.05 133.40,127.01 133.77,125.97 134.14,124.92 134.52,123.87 134.90,122.83 135.29,121.78 135.68,120.73 136.08,119.67 136.48,118.62 136.90,117.56 137.33,116.50 137.77,115.43 138.12,114.40 138.12,114.40 137.66,115.47 137.23,116.53 136.81,117.59 136.40,118.64 136.00,119.70 135.61,120.75 135.22,121.80 134.83,122.85 134.45,123.89 134.08,124.94 133.71,125.98 133.34,127.03 132.98,128.07 132.62,129.11 132.29,130.14 131.99,131.16 131.70,132.19 131.40,133.21 131.12,134.22 130.83,135.24 130.55,136.26 130.28,137.28 130.00,138.29 129.74,139.30 129.47,140.31 129.22,141.32 128.97,142.33 128.73,143.34 128.52,144.33" fill="#00daff" stroke="#00daff" stroke-width="0.1"/>
<polygon points="128.16,145.49 128.51,144.38 128.74,143.31 129.00,142.23 129.26,141.14 129.54,140.05 129.83,138.96 130.12,137.87 130.41,136.77 130.71,135.68 131.02,134.58 131.33,133.48 131.64,132.38 131.96,131.28 132.28,130.18 132.63,129.07 133.02,127.95 133.41,126.82 133.81,125.70 134.21,124.57 134.61,123.45 135.03,122.32 135.44,121.19 135.87,120.05 136.30,118.92 136.73,117.78 137.18,116.64 137.65,115.50 138.13,114.34 138.51,113.22 138.51,113.22 138.01,114.38 137.55,115.53 137.09,116.67 136.65,117.81 136.22,118.94 135.79,120.08 135.37,121.21 134.96,122.34 134.55,123.47 134.15,124.59 133.75,125.72 133.35,126.84 132.96,127.96 132.58,129.09 132.22,130.20 131.90,131.30 131.58,132.40 131.27,133.50 130.95,134.60 130.65,135.70 130.34,136.79 130.05,137.89 129.75,138.98 129.46,140.07 129.18,141.16 128.91,142.25 128.64,143.34 128.39,144.42 128.16,145.49" fill="#00f8ff" stroke="#00f8ff" stroke-width="0.1"/>
<polygon points="127.81,146.63 128.17,145.45 128.42,144.30 128.69,143.14 128.98,141.98 129.27,140.81 129.58,139.64 129.89,138.47 130.21,137.30 130.53,136.13 130.86,134.95 131.19,133.77 131.52,132.60 131.87,131.42 132.21,130.24 132.59,129.05 133.00,127.84 133.42,126.64 133.85,125.44 134.27,124.23 134.71,123.03 135.15,121.82 135.59,120.61 136.05,119.39 136.51,118.18 136.98,116.96 137.46,115.74 137.96,114.51 138.49,113.27 138.91,112.07 138.91,112.07 138.36,113.31 137.86,114.54 137.37,115.76 136.90,116.98 136.43,118.20 135.97,119.41 135.52,120.63 135.08,121.84 134.64,123.05 134.21,124.25 133.79,125.46 133.37,126.66 132.95,127.86 132.54,129.06 132.16,130.25 131.81,131.43 131.47,132.61 131.13,133.79 130.79,134.97 130.46,136.15 130.14,137.32 129.82,138.49 129.50,139.66 129.19,140.83 128.89,142.00 128.60,143.17 128.32,144.33 128.05,145.48 127.81,146.63" fill="#16ffe9" stroke="#16ffe9" stroke-width="0.1"/>
<polygon points="127.46,147.75 127.83,146.49 128.10,145.27 128.39,144.03 128.69,142.80 129.01,141.55 129.33,140.31 129.66,139.06 130.00,137.82 130.35,136.57 130.70,135.31 131.05,134.06 131.41,132.81 131.78,131.55 132.14,130.29 132.55,129.02 132.99,127.74 133.43,126.46 133.88,125.18 134.34,123.90 134.80,122.61 135.27,121.33 135.74,120.04 136.23,118.74 136.72,117.45 137.22,116.15 137.74,114.85 138.27,113.54 138.83,112.23 139.29,110.94 139.29,110.94 138.71,112.26 138.17,113.57 137.65,114.88 137.14,116.18 136.64,117.47 136.15,118.77 135.67,120.06 135.20,121.35 134.73,122.63 134.28,123.92 133.82,125.20 133.38,126.48 132.93,127.76 132.50,129.04 132.09,130.31 131.72,131.57 131.35,132.82 130.99,134.08 130.63,135.33 130.28,136.58 129.94,137.84 129.59,139.09 129.26,140.33 128.93,141.58 128.61,142.82 128.30,144.06 127.99,145.30 127.71,146.53 127.46,147.75" fill="#34ffcb" stroke="#34ffcb" stroke-width="0.1"/>
<polygon points="127.12,148.85 127.50,147.52 127.78,146.22 128.09,144.91 128.41,143.60 128.75,142.29 129.09,140.97 129.44,139.65 129.80,138.32 130.17,137.00 130.54,135.67 130.92,134.34 131.30,133.01 131.69,131.68 132.08,130.35 132.51,129.00 132.97,127.65 133.44,126.29 133.92,124.93 134.40,123.57 134.89,122.21 135.38,120.85 135.89,119.48 136.40,118.11 136.92,116.74 137.45,115.36 138.00,113.98 138.57,112.59 139.17,111.20 139.67,109.83 139.67,109.83 139.05,111.24 138.47,112.62 137.91,114.01 137.37,115.39 136.84,116.76 136.32,118.13 135.82,119.50 135.32,120.87 134.82,122.23 134.34,123.59 133.86,124.95 133.39,126.31 132.92,127.66 132.46,129.02 132.03,130.36 131.63,131.70 131.24,133.03 130.86,134.36 130.48,135.69 130.10,137.02 129.73,138.34 129.37,139.67 129.02,140.99 128.67,142.31 128.33,143.63 128.00,144.94 127.68,146.25 127.38,147.56 127.12,148.85" fill="#52ffac" stroke="#52ffac" stroke-width="0.1"/>
<polygon points="126.79,149.92 127.18,148.52 127.47,147.15 127.79,145.77 128.13,144.39 128.49,143.00 128.85,141.61 129.22,140.21 129.60,138.82 129.99,137.42 130.38,136.02 130.78,134.62 131.19,133.21 131.60,131.81 132.02,130.40 132.47,128.98 132.96,127.55 133.45,126.12 133.95,124.69 134.46,123.25 134.97,121.81 135.49,120.38 136.03,118.93 136.57,117.49 137.12,116.04 137.68,114.59 138.26,113.13 138.87,111.67 139.50,110.19 140.05,108.75 140.05,108.75 139.38,110.23 138.76,111.70 138.17,113.16 137.60,114.61 137.04,116.06 136.49,117.51 135.95,118.95 135.43,120.40 134.91,121.83 134.40,123.27 133.89,124.70 133.39,126.14 132.90,127.57 132.42,129.00 131.96,130.41 131.55,131.82 131.13,133.23 130.72,134.63 130.32,136.04 129.93,137.44 129.54,138.84 129.15,140.24 128.78,141.63 128.41,143.02 128.05,144.41 127.70,145.80 127.37,147.18 127.05,148.56 126.79,149.92" fill="#70ff8e" stroke="#70ff8e" stroke-width="0.1"/>
<polygon points="126.46,150.97 126.86,149.50 127.16,148.06 127.50,146.62 127.86,145.16 128.23,143.70 128.62,142.24 129.01,140.77 129.41,139.30 129.82,137.83 130.23,136.36 130.65,134.89 131.08,133.41 131.51,131.93 131.95,130.45 132.43,128.96 132.94,127.46 133.46,125.95 133.98,124.45 134.51,122.94 135.05,121.43 135.60,119.92 136.16,118.40 136.73,116.88 137.31,115.36 137.90,113.83 138.52,112.30 139.15,110.76 139.83,109.21 140.41,107.68 140.41,107.68 139.70,109.25 139.05,110.79 138.42,112.33 137.82,113.86 137.23,115.38 136.65,116.90 136.09,118.42 135.53,119.94 134.99,121.45 134.45,122.96 133.92,124.47 133.40,125.97 132.89,127.47 132.38,128.97 131.90,130.47 131.46,131.95 131.02,133.43 130.59,134.90 130.17,136.38 129.75,137.85 129.34,139.32 128.94,140.79 128.54,142.26 128.15,143.72 127.78,145.19 127.41,146.64 127.06,148.10 126.73,149.54 126.46,150.97" fill="#8eff71" stroke="#8eff71" stroke-width="0.1"/>
<polygon points="126.14,151.99 126.55,150.46 126.86,148.95 127.22,147.44 127.59,145.91 127.98,144.38 128.38,142.85 128.79,141.31 129.22,139.78 129.64,138.24 130.08,136.69 130.52,135.15 130.97,133.60 131.43,132.05 131.89,130.50 132.39,128.94 132.92,127.37 133.46,125.79 134.01,124.22 134.57,122.64 135.13,121.06 135.70,119.47 136.29,117.88 136.88,116.29 137.49,114.70 138.12,113.10 138.76,111.49 139.43,109.88 140.14,108.25 140.77,106.65 140.77,106.65 140.02,108.29 139.33,109.91 138.67,111.52 138.03,113.12 137.41,114.72 136.81,116.31 136.22,117.90 135.64,119.49 135.07,121.07 134.50,122.66 133.95,124.23 133.41,125.81 132.87,127.38 132.34,128.95 131.84,130.52 131.37,132.07 130.92,133.62 130.46,135.17 130.02,136.71 129.58,138.26 129.15,139.80 128.72,141.34 128.31,142.87 127.90,144.41 127.51,145.94 127.12,147.46 126.76,148.99 126.42,150.50 126.14,151.99" fill="#acff53" stroke="#acff53" stroke-width="0.1"/>
<polygon points="125.83,152.99 126.24,151.39 126.57,149.82 126.94,148.24 127.33,146.64 127.73,145.05 128.15,143.45 128.59,141.84 129.03,140.24 129.47,138.63 129.93,137.02 130.39,135.40 130.87,133.79 131.34,132.17 131.83,130.55 132.35,128.92 132.90,127.28 133.47,125.64 134.04,123.99 134.62,122.34 135.20,120.69 135.80,119.04 136.41,117.38 137.03,115.72 137.67,114.05 138.32,112.38 139.00,110.70 139.70,109.02 140.45,107.32 141.12,105.64 141.12,105.64 140.32,107.36 139.60,109.05 138.91,110.73 138.24,112.41 137.59,114.08 136.96,115.74 136.34,117.40 135.73,119.06 135.14,120.71 134.55,122.36 133.98,124.01 133.41,125.65 132.85,127.30 132.30,128.94 131.78,130.57 131.29,132.19 130.81,133.81 130.34,135.42 129.87,137.04 129.41,138.65 128.96,140.26 128.51,141.87 128.08,143.47 127.65,145.07 127.24,146.67 126.84,148.26 126.46,149.85 126.11,151.43 125.83,152.99" fill="#caff35" stroke="#caff35" stroke-width="0.1"/>
<polygon points="125.53,153.96 125.94,152.30 126.28,150.66 126.66,149.01 127.07,147.36 127.49,145.70 127.93,144.03 128.38,142.36 128.84,140.69 129.31,139.01 129.78,137.33 130.27,135.65 130.76,133.97 131.26,132.29 131.77,130.60 132.31,128.90 132.88,127.19 133.47,125.48 134.06,123.77 134.66,122.06 135.27,120.34 135.89,118.62 136.53,116.89 137.18,115.16 137.84,113.43 138.52,111.69 139.23,109.94 139.96,108.18 140.75,106.41 141.47,104.66 141.47,104.66 140.62,106.45 139.86,108.22 139.13,109.97 138.44,111.71 137.76,113.45 137.10,115.18 136.46,116.91 135.83,118.64 135.21,120.36 134.60,122.07 134.00,123.79 133.41,125.50 132.83,127.21 132.26,128.92 131.72,130.61 131.21,132.30 130.71,133.99 130.21,135.67 129.72,137.35 129.24,139.03 128.77,140.71 128.31,142.38 127.85,144.05 127.41,145.72 126.98,147.38 126.57,149.04 126.17,150.70 125.81,152.34 125.53,153.96" fill="#e8ff17" stroke="#e8ff17" stroke-width="0.1"/>
<polygon points="125.23,154.89 125.65,153.18 125.99,151.48 126.39,149.77 126.81,148.05 127.25,146.32 127.71,144.59 128.18,142.86 128.66,141.12 129.14,139.38 129.64,137.64 130.15,135.90 130.66,134.15 131.18,132.40 131.71,130.65 132.27,128.89 132.86,127.11 133.47,125.34 134.08,123.56 134.70,121.78 135.34,120.00 135.98,118.21 136.64,116.42 137.31,114.62 138.00,112.82 138.71,111.02 139.45,109.20 140.21,107.38 141.04,105.54 141.80,103.71 141.80,103.71 140.90,105.58 140.10,107.41 139.35,109.23 138.62,111.04 137.92,112.85 137.24,114.65 136.57,116.44 135.92,118.23 135.27,120.02 134.64,121.80 134.02,123.58 133.41,125.35 132.81,127.13 132.22,128.90 131.66,130.66 131.13,132.41 130.60,134.17 130.09,135.91 129.58,137.66 129.08,139.40 128.59,141.14 128.11,142.88 127.63,144.62 127.17,146.35 126.72,148.08 126.29,149.80 125.89,151.51 125.51,153.22 125.23,154.89" fill="#fff800" stroke="#fff800" stroke-width="0.1"/>
<polygon points="124.95,155.80 125.36,154.03 125.71,152.27 126.12,150.50 126.56,148.72 127.02,146.93 127.49,145.14 127.98,143.34 128.48,141.54 128.98,139.74 129.50,137.94 130.02,136.13 130.56,134.32 131.10,132.51 131.65,130.69 132.23,128.87 132.84,127.03 133.47,125.20 134.10,123.36 134.74,121.51 135.40,119.67 136.06,117.82 136.75,115.96 137.44,114.10 138.16,112.24 138.89,110.37 139.65,108.49 140.45,106.60 141.31,104.69 142.12,102.80 142.12,102.80 141.18,104.73 140.34,106.63 139.56,108.52 138.80,110.39 138.07,112.26 137.37,114.13 136.67,115.98 136.00,117.84 135.33,119.69 134.68,121.53 134.04,123.37 133.41,125.21 132.79,127.05 132.18,128.88 131.60,130.71 131.05,132.52 130.50,134.34 129.97,136.15 129.44,137.96 128.92,139.76 128.41,141.56 127.91,143.37 127.42,145.16 126.94,146.96 126.47,148.75 126.03,150.53 125.60,152.31 125.22,154.07 124.95,155.80" fill="#ffda00" stroke="#ffda00" stroke-width="0.1"/>
<polygon points="124.67,156.68 125.08,154.85 125.44,153.04 125.86,151.21 126.31,149.37 126.79,147.52 127.28,145.67 127.78,143.81 128.30,141.95 128.83,140.09 129.36,138.22 129.90,136.36 130.46,134.49 131.02,132.61 131.59,130.74 132.19,128.85 132.82,126.96 133.46,125.06 134.12,123.16 134.78,121.26 135.45,119.35 136.14,117.44 136.84,115.52 137.56,113.60 138.30,111.68 139.06,109.74 139.85,107.80 140.68,105.85 141.57,103.87 142.43,101.91 142.43,101.91 141.44,103.92 140.57,105.88 139.75,107.83 138.97,109.77 138.22,111.70 137.49,113.63 136.77,115.54 136.07,117.46 135.39,119.37 134.72,121.28 134.06,123.18 133.41,125.08 132.77,126.97 132.14,128.87 131.54,130.75 130.97,132.63 130.40,134.50 129.85,136.37 129.30,138.24 128.76,140.11 128.23,141.97 127.71,143.83 127.20,145.69 126.71,147.54 126.22,149.39 125.76,151.24 125.33,153.07 124.94,154.89 124.67,156.68" fill="#ffbc00" stroke="#ffbc00" stroke-width="0.1"/>
<polygon points="124.39,157.52 124.80,155.64 125.17,153.77 125.60,151.89 126.07,149.99 126.56,148.09 127.07,146.18 127.59,144.26 128.13,142.35 128.67,140.43 129.23,138.50 129.79,136.58 130.36,134.65 130.94,132.72 131.53,130.78 132.15,128.84 132.80,126.89 133.46,124.93 134.13,122.97 134.81,121.01 135.51,119.05 136.21,117.08 136.94,115.10 137.68,113.12 138.44,111.14 139.22,109.14 140.04,107.14 140.89,105.13 141.82,103.09 142.73,101.06 142.73,101.06 141.68,103.13 140.78,105.16 139.94,107.17 139.13,109.17 138.35,111.16 137.60,113.15 136.86,115.12 136.15,117.10 135.44,119.07 134.75,121.03 134.07,122.99 133.40,124.95 132.75,126.90 132.10,128.85 131.48,130.80 130.89,132.73 130.30,134.66 129.73,136.59 129.16,138.52 128.61,140.44 128.06,142.37 127.52,144.28 127.00,146.20 126.48,148.11 125.98,150.02 125.50,151.92 125.06,153.81 124.66,155.69 124.39,157.52" fill="#ff9e00" stroke="#ff9e00" stroke-width="0.1"/>
<polygon points="124.13,158.33 124.53,156.40 124.91,154.48 125.35,152.54 125.84,150.59 126.34,148.63 126.87,146.67 127.41,144.70 127.96,142.72 128.52,140.75 129.09,138.77 129.67,136.79 130.26,134.80 130.86,132.82 131.47,130.83 132.11,128.83 132.77,126.82 133.45,124.81 134.14,122.79 134.84,120.78 135.55,118.75 136.28,116.73 137.02,114.70 137.78,112.66 138.56,110.62 139.37,108.57 140.21,106.51 141.09,104.44 142.06,102.34 143.01,100.24 143.01,100.24 141.91,102.38 140.98,104.47 140.11,106.54 139.28,108.60 138.48,110.65 137.70,112.69 136.95,114.72 136.21,116.75 135.49,118.77 134.78,120.79 134.08,122.81 133.40,124.82 132.72,126.83 132.06,128.84 131.42,130.84 130.81,132.83 130.21,134.82 129.62,136.80 129.03,138.79 128.46,140.77 127.89,142.74 127.34,144.72 126.79,146.69 126.26,148.66 125.74,150.62 125.25,152.57 124.79,154.52 124.38,156.45 124.13,158.33" fill="#ff8000" stroke="#ff8000" stroke-width="0.1"/>
<polygon points="123.88,159.11 124.26,157.14 124.64,155.16 125.10,153.17 125.60,151.17 126.13,149.15 126.67,147.14 127.23,145.11 127.79,143.09 128.37,141.06 128.96,139.02 129.56,136.99 130.17,134.95 130.79,132.91 131.41,130.87 132.07,128.81 132.75,126.75 133.44,124.69 134.15,122.62 134.86,120.55 135.59,118.48 136.34,116.40 137.10,114.31 137.88,112.22 138.68,110.13 139.51,108.02 140.37,105.91 141.28,103.78 142.27,101.62 143.28,99.46 143.28,99.46 142.13,101.67 141.16,103.82 140.27,105.94 139.41,108.05 138.60,110.15 137.80,112.25 137.03,114.34 136.27,116.42 135.53,118.50 134.80,120.57 134.09,122.64 133.39,124.71 132.70,126.77 132.02,128.83 131.36,130.88 130.73,132.93 130.11,134.97 129.50,137.01 128.90,139.04 128.31,141.08 127.73,143.11 127.15,145.13 126.59,147.16 126.04,149.18 125.51,151.19 125.00,153.20 124.53,155.20 124.11,157.18 123.88,159.11" fill="#ff6200" stroke="#ff6200" stroke-width="0.1"/>
<polygon points="123.63,159.85 124.00,157.83 124.39,155.82 124.86,153.77 125.38,151.72 125.92,149.65 126.48,147.58 127.05,145.51 127.63,143.43 128.23,141.35 128.84,139.27 129.45,137.18 130.08,135.09 130.71,133.00 131.36,130.91 132.03,128.80 132.72,126.69 133.43,124.58 134.15,122.46 134.88,120.34 135.63,118.21 136.39,116.08 137.17,113.95 137.97,111.81 138.79,109.66 139.63,107.50 140.51,105.34 141.45,103.15 142.48,100.94 143.54,98.72 143.54,98.72 142.32,100.99 141.33,103.19 140.41,105.37 139.54,107.53 138.70,109.69 137.89,111.83 137.10,113.97 136.32,116.10 135.56,118.23 134.82,120.36 134.09,122.48 133.38,124.60 132.67,126.71 131.98,128.82 131.31,130.92 130.66,133.02 130.02,135.11 129.39,137.20 128.78,139.29 128.17,141.37 127.57,143.45 126.98,145.53 126.40,147.61 125.83,149.68 125.28,151.74 124.76,153.80 124.27,155.85 123.84,157.88 123.63,159.85" fill="#ff4300" stroke="#ff4300" stroke-width="0.1"/>
<polygon points="123.39,160.55 123.74,158.50 124.14,156.44 124.62,154.35 125.15,152.24 125.71,150.13 126.29,148.01 126.88,145.89 127.48,143.76 128.09,141.63 128.71,139.50 129.34,137.37 129.99,135.23 130.64,133.09 131.30,130.95 131.99,128.79 132.70,126.64 133.42,124.47 134.15,122.31 134.90,120.14 135.66,117.97 136.44,115.79 137.23,113.60 138.04,111.41 138.88,109.22 139.75,107.01 140.65,104.80 141.60,102.56 142.66,100.30 143.78,98.02 143.78,98.02 142.50,100.35 141.48,102.60 140.54,104.83 139.65,107.04 138.80,109.24 137.97,111.44 137.16,113.62 136.37,115.81 135.60,117.98 134.84,120.16 134.09,122.33 133.36,124.49 132.64,126.65 131.94,128.81 131.25,130.96 130.59,133.10 129.93,135.25 129.29,137.39 128.65,139.52 128.03,141.65 127.41,143.78 126.80,145.91 126.21,148.04 125.63,150.15 125.06,152.27 124.52,154.38 124.01,156.47 123.58,158.55 123.39,160.55" fill="#ff2500" stroke="#ff2500" stroke-width="0.1"/>
<polygon points="123.16,161.22 123.48,159.14 123.89,157.03 124.39,154.89 124.94,152.74 125.51,150.58 126.10,148.42 126.71,146.25 127.33,144.08 127.95,141.90 128.59,139.72 129.24,137.54 129.90,135.36 130.57,133.17 131.24,130.98 131.94,128.79 132.67,126.58 133.40,124.38 134.15,122.17 134.91,119.95 135.69,117.73 136.48,115.51 137.29,113.28 138.11,111.04 138.97,108.80 139.85,106.55 140.76,104.29 141.74,102.01 142.82,99.70 144.00,97.35 144.00,97.35 142.65,99.75 141.61,102.05 140.66,104.32 139.75,106.58 138.88,108.83 138.04,111.07 137.21,113.30 136.41,115.53 135.62,117.75 134.85,119.97 134.09,122.18 133.35,124.39 132.62,126.60 131.90,128.80 131.20,131.00 130.51,133.19 129.84,135.38 129.18,137.56 128.53,139.74 127.89,141.92 127.26,144.10 126.64,146.27 126.02,148.44 125.43,150.61 124.84,152.77 124.28,154.92 123.76,157.07 123.31,159.19 123.16,161.22" fill="#ff1a00" stroke="#ff1a00" stroke-width="0.1"/>
<polygon points="122.93,161.85 123.22,159.74 123.64,157.59 124.16,155.41 124.73,153.21 125.32,151.01 125.92,148.80 126.54,146.59 127.18,144.37 127.82,142.16 128.47,139.93 129.14,137.71 129.81,135.48 130.49,133.25 131.19,131.02 131.90,128.78 132.64,126.53 133.38,124.28 134.14,122.03 134.92,119.77 135.71,117.51 136.51,115.24 137.33,112.97 138.17,110.69 139.04,108.41 139.93,106.11 140.86,103.81 141.85,101.49 142.95,99.13 144.20,96.73 144.20,96.73 142.78,99.18 141.72,101.53 140.76,103.84 139.84,106.14 138.95,108.43 138.10,110.72 137.26,112.99 136.44,115.27 135.64,117.53 134.86,119.79 134.09,122.05 133.33,124.30 132.59,126.55 131.85,128.79 131.14,131.03 130.44,133.27 129.76,135.50 129.08,137.73 128.42,139.95 127.76,142.18 127.11,144.39 126.47,146.61 125.84,148.82 125.23,151.03 124.63,153.24 124.05,155.44 123.51,157.63 123.04,159.79 122.93,161.85" fill="#ff1a00" stroke="#ff1a00" stroke-width="0.1"/>
<polygon points="122.70,162.44 122.95,160.31 123.39,158.11 123.94,155.89 124.52,153.65 125.13,151.41 125.75,149.16 126.39,146.91 127.03,144.65 127.69,142.39 128.36,140.13 129.04,137.87 129.73,135.60 130.43,133.33 131.13,131.05 131.86,128.77 132.61,126.49 133.36,124.20 134.14,121.91 134.92,119.61 135.72,117.31 136.54,115.00 137.37,112.69 138.23,110.37 139.10,108.04 140.01,105.71 140.95,103.37 141.95,101.00 143.06,98.61 144.38,96.15 144.38,96.15 142.87,98.66 141.81,101.05 140.84,103.40 139.91,105.74 139.02,108.07 138.15,110.39 137.30,112.71 136.47,115.02 135.66,117.33 134.86,119.63 134.08,121.92 133.31,124.22 132.56,126.50 131.81,128.79 131.09,131.07 130.37,133.34 129.67,135.62 128.98,137.88 128.30,140.15 127.63,142.41 126.97,144.67 126.31,146.93 125.67,149.19 125.04,151.44 124.42,153.68 123.83,155.92 123.26,158.16 122.77,160.36 122.70,162.44" fill="#ff1a00" stroke="#ff1a00" stroke-width="0.1"/>
<polygon points="122.47,163.01 122.68,160.85 123.15,158.61 123.72,156.35 124.32,154.07 124.94,151.79 125.58,149.50 126.23,147.21 126.90,144.91 127.57,142.62 128.25,140.32 128.94,138.01 129.65,135.71 130.36,133.40 131.08,131.09 131.82,128.77 132.57,126.45 133.34,124.12 134.12,121.79 134.92,119.46 135.73,117.12 136.56,114.77 137.40,112.43 138.27,110.07 139.15,107.71 140.07,105.34 141.02,102.96 142.02,100.56 143.13,98.13 144.52,95.62 144.52,95.62 142.94,98.19 141.88,100.60 140.91,102.99 139.97,105.37 139.07,107.73 138.19,110.09 137.33,112.45 136.49,114.80 135.67,117.14 134.86,119.48 134.07,121.81 133.29,124.14 132.52,126.46 131.77,128.78 131.03,131.10 130.31,133.41 129.59,135.72 128.89,138.03 128.19,140.34 127.51,142.64 126.83,144.94 126.16,147.23 125.50,149.52 124.86,151.81 124.22,154.10 123.60,156.38 123.01,158.65 122.48,160.91 122.47,163.01" fill="#ff1a00" stroke="#ff1a00" stroke-width="0.1"/>
<polygon points="122.00,163.60 122.40,161.35 122.91,159.08 123.50,156.77 124.12,154.46 124.76,152.14 125.42,149.81 126.09,147.49 126.76,145.16 127.45,142.83 128.15,140.49 128.85,138.15 129.57,135.81 130.29,133.47 131.03,131.12 131.78,128.77 132.54,126.41 133.32,124.05 134.11,121.69 134.91,119.32 135.73,116.95 136.57,114.57 137.42,112.18 138.30,109.79 139.19,107.40 140.12,104.99 141.07,102.58 142.07,100.15 143.17,97.70 144.40,95.20 144.40,95.20 142.96,97.76 141.93,100.20 140.96,102.62 140.02,105.02 139.11,107.43 138.22,109.82 137.35,112.21 136.50,114.59 135.67,116.96 134.85,119.34 134.05,121.70 133.26,124.07 132.49,126.43 131.73,128.78 130.98,131.13 130.24,133.48 129.51,135.83 128.79,138.17 128.09,140.51 127.39,142.84 126.70,145.18 126.01,147.51 125.34,149.84 124.68,152.16 124.02,154.49 123.39,156.81 122.77,159.12 122.19,161.42 122.00,163.60" fill="#ff1a00" stroke="#ff1a00" stroke-width="0.1"/>
</g>
<polygon points="132.90,128.45 132.94,128.22 132.99,127.99 133.04,127.75 133.09,127.52 133.19,127.27 133.29,127.03 133.39,126.78 133.50,126.53 133.60,125.57 133.46,125.90 133.32,126.23 133.19,126.56 133.06,126.89 132.99,127.20 132.92,127.51 132.85,127.82 132.80,128.13" fill="#00009a" stroke="#00009a" stroke-width="0.4"/>
<polygon points="132.80,128.13 132.85,127.82 132.92,127.51 132.99,127.20 133.06,126.89 133.19,126.56 133.32,126.23 133.46,125.90 133.60,125.57 133.81,123.65 133.59,124.15 133.39,124.65 133.19,125.14 133.00,125.64 132.89,126.10 132.79,126.57 132.69,127.03 132.60,127.50" fill="#0000a5" stroke="#0000a5" stroke-width="0.4"/>
<polygon points="132.60,127.50 132.69,127.03 132.79,126.57 132.89,126.10 133.00,125.64 133.19,125.14 133.39,124.65 133.59,124.15 133.81,123.65 134.01,121.74 133.72,122.40 133.46,123.06 133.20,123.72 132.94,124.38 132.80,125.00 132.65,125.62 132.52,126.24 132.40,126.86" fill="#0000b4" stroke="#0000b4" stroke-width="0.4"/>
<polygon points="132.40,126.86 132.52,126.24 132.65,125.62 132.80,125.00 132.94,124.38 133.20,123.72 133.46,123.06 133.72,122.40 134.01,121.74 134.21,119.82 133.86,120.65 133.53,121.48 133.21,122.30 132.89,123.12 132.70,123.90 132.52,124.68 132.35,125.45 132.20,126.22" fill="#0000c3" stroke="#0000c3" stroke-width="0.4"/>
<polygon points="132.20,126.22 132.35,125.45 132.52,124.68 132.70,123.90 132.89,123.12 133.21,122.30 133.53,121.48 133.86,120.65 134.21,119.82 134.42,117.91 133.99,118.90 133.60,119.89 133.21,120.88 132.84,121.86 132.61,122.80 132.39,123.73 132.18,124.66 132.01,125.58" fill="#0000d2" stroke="#0000d2" stroke-width="0.4"/>
<polygon points="132.01,125.58 132.18,124.66 132.39,123.73 132.61,122.80 132.84,121.86 133.21,120.88 133.60,119.89 133.99,118.90 134.42,117.91 134.62,115.99 134.13,117.16 133.67,118.31 133.22,119.46 132.79,120.60 132.52,121.69 132.26,122.78 132.02,123.87 131.81,124.95" fill="#0000e1" stroke="#0000e1" stroke-width="0.4"/>
<polygon points="131.81,124.95 132.02,123.87 132.26,122.78 132.52,121.69 132.79,120.60 133.22,119.46 133.67,118.31 134.13,117.16 134.62,115.99 134.83,114.08 134.26,115.41 133.74,116.72 133.23,118.03 132.74,119.34 132.43,120.59 132.13,121.83 131.85,123.08 131.62,124.30" fill="#0000f0" stroke="#0000f0" stroke-width="0.4"/>
<polygon points="131.62,124.30 131.85,123.08 132.13,121.83 132.43,120.59 132.74,119.34 133.23,118.03 133.74,116.72 134.26,115.41 134.83,114.08 135.03,112.17 134.40,113.66 133.81,115.14 133.24,116.61 132.69,118.08 132.34,119.48 132.01,120.89 131.69,122.28 131.42,123.66" fill="#0000ff" stroke="#0000ff" stroke-width="0.4"/>
<polygon points="131.42,123.66 131.69,122.28 132.01,120.89 132.34,119.48 132.69,118.08 133.24,116.61 133.81,115.14 134.40,113.66 135.03,112.17 135.24,110.26 134.53,111.92 133.88,113.56 133.25,115.19 132.64,116.82 132.25,118.38 131.88,119.94 131.53,121.48 131.23,123.02" fill="#000fff" stroke="#000fff" stroke-width="0.4"/>
<polygon points="131.23,123.02 131.53,121.48 131.88,119.94 132.25,118.38 132.64,116.82 133.25,115.19 133.88,113.56 134.53,111.92 135.24,110.26 135.45,108.35 134.67,110.17 133.95,111.98 133.26,113.77 132.60,115.56 132.16,117.27 131.75,118.98 131.36,120.69 131.04,122.37" fill="#001eff" stroke="#001eff" stroke-width="0.4"/>
<polygon points="131.04,122.37 131.36,120.69 131.75,118.98 132.16,117.27 132.60,115.56 133.26,113.77 133.95,111.98 134.67,110.17 135.45,108.35 135.65,106.45 134.80,108.43 134.02,110.40 133.27,112.35 132.55,114.30 132.07,116.17 131.62,118.03 131.20,119.89 130.85,121.72" fill="#002dff" stroke="#002dff" stroke-width="0.4"/>
<polygon points="130.85,121.72 131.20,119.89 131.62,118.03 132.07,116.17 132.55,114.30 133.27,112.35 134.02,110.40 134.80,108.43 135.65,106.45 135.86,104.54 134.94,106.69 134.09,108.82 133.28,110.93 132.50,113.04 131.99,115.06 131.50,117.08 131.04,119.09 130.66,121.07" fill="#003cff" stroke="#003cff" stroke-width="0.4"/>
<polygon points="130.66,121.07 131.04,119.09 131.50,117.08 131.99,115.06 132.50,113.04 133.28,110.93 134.09,108.82 134.94,106.69 135.86,104.54 136.07,102.64 135.07,104.95 134.16,107.24 133.29,109.51 132.46,111.77 131.90,113.95 131.37,116.12 130.88,118.28 130.47,120.42" fill="#004bff" stroke="#004bff" stroke-width="0.4"/>
<polygon points="130.47,120.42 130.88,118.28 131.37,116.12 131.90,113.95 132.46,111.77 133.29,109.51 134.16,107.24 135.07,104.95 136.07,102.64 136.27,100.74 135.20,103.22 134.23,105.66 133.30,108.09 132.41,110.51 131.81,112.84 131.24,115.17 130.72,117.48 130.28,119.76" fill="#005aff" stroke="#005aff" stroke-width="0.4"/>
<polygon points="130.28,119.76 130.72,117.48 131.24,115.17 131.81,112.84 132.41,110.51 133.30,108.09 134.23,105.66 135.20,103.22 136.27,100.74 136.48,98.85 135.34,101.48 134.30,104.09 133.31,106.67 132.37,109.25 131.72,111.74 131.12,114.21 130.56,116.67 130.09,119.10" fill="#0069ff" stroke="#0069ff" stroke-width="0.4"/>
<polygon points="130.09,119.10 130.56,116.67 131.12,114.21 131.72,111.74 132.37,109.25 133.31,106.67 134.30,104.09 135.34,101.48 136.48,98.85 136.68,96.95 135.47,99.75 134.37,102.51 133.32,105.26 132.33,107.99 131.64,110.63 130.99,113.25 130.40,115.86 129.91,118.44" fill="#0078ff" stroke="#0078ff" stroke-width="0.4"/>
<polygon points="129.91,118.44 130.40,115.86 130.99,113.25 131.64,110.63 132.33,107.99 133.32,105.26 134.37,102.51 135.47,99.75 136.68,96.95 136.89,95.06 135.60,98.02 134.44,100.94 133.34,103.84 132.28,106.73 131.55,109.52 130.87,112.29 130.24,115.05 129.73,117.77" fill="#0087ff" stroke="#0087ff" stroke-width="0.4"/>
<polygon points="129.73,117.77 130.24,115.05 130.87,112.29 131.55,109.52 132.28,106.73 133.34,103.84 134.44,100.94 135.60,98.02 136.89,95.06 137.10,93.18 135.73,96.29 134.50,99.37 133.34,102.43 132.24,105.47 131.47,108.40 130.74,111.33 130.08,114.23 129.54,117.10" fill="#0096ff" stroke="#0096ff" stroke-width="0.4"/>
<polygon points="129.54,117.10 130.08,114.23 130.74,111.33 131.47,108.40 132.24,105.47 133.34,102.43 134.50,99.37 135.73,96.29 137.10,93.18 137.30,91.29 135.86,94.57 134.57,97.80 133.35,101.01 132.20,104.20 131.38,107.29 130.62,110.36 129.93,113.41 129.36,116.43" fill="#00a5ff" stroke="#00a5ff" stroke-width="0.4"/>
<polygon points="129.36,116.43 129.93,113.41 130.62,110.36 131.38,107.29 132.20,104.20 133.35,101.01 134.57,97.80 135.86,94.57 137.30,91.29 137.51,89.41 135.99,92.85 134.64,96.24 133.36,99.60 132.15,102.94 131.30,106.18 130.50,109.40 129.77,112.59 129.18,115.75" fill="#00b4ff" stroke="#00b4ff" stroke-width="0.4"/>
<polygon points="129.18,115.75 129.77,112.59 130.50,109.40 131.30,106.18 132.15,102.94 133.36,99.60 134.64,96.24 135.99,92.85 137.51,89.41 137.71,87.54 136.12,91.13 134.70,94.67 133.37,98.18 132.11,101.68 131.21,105.06 130.37,108.43 129.61,111.77 129.00,115.07" fill="#00c3ff" stroke="#00c3ff" stroke-width="0.4"/>
<polygon points="129.00,115.07 129.61,111.77 130.37,108.43 131.21,105.06 132.11,101.68 133.37,98.18 134.70,94.67 136.12,91.13 137.71,87.54 137.92,85.66 136.25,89.41 134.77,93.11 133.38,96.77 132.07,100.42 131.13,103.95 130.25,107.46 129.46,110.95 128.83,114.38" fill="#00d2ff" stroke="#00d2ff" stroke-width="0.4"/>
<polygon points="128.83,114.38 129.46,110.95 130.25,107.46 131.13,103.95 132.07,100.42 133.38,96.77 134.77,93.11 136.25,89.41 137.92,85.66 138.12,83.80 136.38,87.70 134.83,91.55 133.39,95.36 132.03,99.15 131.04,102.83 130.13,106.49 129.30,110.12 128.65,113.69" fill="#00e1ff" stroke="#00e1ff" stroke-width="0.4"/>
<polygon points="128.65,113.69 129.30,110.12 130.13,106.49 131.04,102.83 132.03,99.15 133.39,95.36 134.83,91.55 136.38,87.70 138.12,83.80 138.32,81.93 136.50,85.99 134.89,89.99 133.40,93.95 131.99,97.89 130.96,101.71 130.01,105.51 129.15,109.28 128.48,113.00" fill="#00f0ff" stroke="#00f0ff" stroke-width="0.4"/>
<polygon points="128.48,113.00 129.15,109.28 130.01,105.51 130.96,101.71 131.99,97.89 133.40,93.95 134.89,89.99 136.50,85.99 138.32,81.93 138.52,80.07 136.63,84.29 134.96,88.43 133.41,92.55 131.94,96.63 130.88,100.59 129.89,104.54 129.00,108.45 128.30,112.30" fill="#00ffff" stroke="#00ffff" stroke-width="0.4"/>
<polygon points="128.30,112.30 129.00,108.45 129.89,104.54 130.88,100.59 131.94,96.63 133.41,92.55 134.96,88.43 136.63,84.29 138.52,80.07 138.72,78.22 136.75,82.59 135.02,86.88 133.41,91.14 131.90,95.37 130.79,99.47 129.77,103.56 128.84,107.61 128.13,111.59" fill="#0ffff0" stroke="#0ffff0" stroke-width="0.4"/>
<polygon points="128.13,111.59 128.84,107.61 129.77,103.56 130.79,99.47 131.90,95.37 133.41,91.14 135.02,86.88 136.75,82.59 138.72,78.22 138.92,76.37 136.87,80.89 135.08,85.33 133.42,89.73 131.86,94.10 130.71,98.35 129.65,102.58 128.69,106.76 127.96,110.89" fill="#1effe1" stroke="#1effe1" stroke-width="0.4"/>
<polygon points="127.96,110.89 128.69,106.76 129.65,102.58 130.71,98.35 131.86,94.10 133.42,89.73 135.08,85.33 136.87,80.89 138.92,76.37 139.12,74.52 136.99,79.19 135.14,83.78 133.43,88.33 131.82,92.84 130.63,97.23 129.53,101.59 128.54,105.92 127.80,110.17" fill="#2dffd2" stroke="#2dffd2" stroke-width="0.4"/>
<polygon points="127.80,110.17 128.54,105.92 129.53,101.59 130.63,97.23 131.82,92.84 133.43,88.33 135.14,83.78 136.99,79.19 139.12,74.52 139.32,72.68 137.11,77.51 135.19,82.24 133.43,86.92 131.78,91.58 130.55,96.11 129.41,100.60 128.39,105.07 127.63,109.45" fill="#3cffc3" stroke="#3cffc3" stroke-width="0.4"/>
<polygon points="127.63,109.45 128.39,105.07 129.41,100.60 130.55,96.11 131.78,91.58 133.43,86.92 135.19,82.24 137.11,77.51 139.32,72.68 139.52,70.85 137.23,75.82 135.25,80.70 133.44,85.52 131.74,90.31 130.47,94.98 129.29,99.62 128.24,104.21 127.46,108.73" fill="#4bffb4" stroke="#4bffb4" stroke-width="0.4"/>
<polygon points="127.46,108.73 128.24,104.21 129.29,99.62 130.47,94.98 131.74,90.31 133.44,85.52 135.25,80.70 137.23,75.82 139.52,70.85 139.71,69.02 137.34,74.14 135.31,79.16 133.44,84.12 131.70,89.05 130.38,93.85 129.17,98.62 128.09,103.35 127.30,108.00" fill="#5affa5" stroke="#5affa5" stroke-width="0.4"/>
<polygon points="127.30,108.00 128.09,103.35 129.17,98.62 130.38,93.85 131.70,89.05 133.44,84.12 135.31,79.16 137.34,74.14 139.71,69.02 139.90,67.20 137.46,72.46 135.36,77.62 133.45,82.72 131.66,87.79 130.30,92.73 129.05,97.63 127.95,102.49 127.14,107.26" fill="#69ff96" stroke="#69ff96" stroke-width="0.4"/>
<polygon points="127.14,107.26 127.95,102.49 129.05,97.63 130.30,92.73 131.66,87.79 133.45,82.72 135.36,77.62 137.46,72.46 139.90,67.20 140.10,65.38 137.57,70.79 135.41,76.09 133.45,81.33 131.62,86.53 130.22,91.60 128.94,96.63 127.80,101.62 126.98,106.52" fill="#78ff87" stroke="#78ff87" stroke-width="0.4"/>
<polygon points="126.98,106.52 127.80,101.62 128.94,96.63 130.22,91.60 131.62,86.53 133.45,81.33 135.41,76.09 137.57,70.79 140.10,65.38 140.29,63.57 137.68,69.12 135.47,74.56 133.45,79.93 131.58,85.26 130.14,90.46 128.82,95.63 127.65,100.75 126.82,105.77" fill="#87ff78" stroke="#87ff78" stroke-width="0.4"/>
<polygon points="126.82,105.77 127.65,100.75 128.82,95.63 130.14,90.46 131.58,85.26 133.45,79.93 135.47,74.56 137.68,69.12 140.29,63.57 140.48,61.77 137.79,67.46 135.52,73.03 133.46,78.54 131.54,84.00 130.06,89.33 128.71,94.63 127.51,99.87 126.66,105.01" fill="#96ff69" stroke="#96ff69" stroke-width="0.4"/>
<polygon points="126.66,105.01 127.51,99.87 128.71,94.63 130.06,89.33 131.54,84.00 133.46,78.54 135.52,73.03 137.79,67.46 140.48,61.77 140.66,59.97 137.89,65.81 135.57,71.51 133.46,77.15 131.51,82.74 129.98,88.20 128.59,93.62 127.36,98.99 126.50,104.25" fill="#a5ff5a" stroke="#a5ff5a" stroke-width="0.4"/>
<polygon points="126.50,104.25 127.36,98.99 128.59,93.62 129.98,88.20 131.51,82.74 133.46,77.15 135.57,71.51 137.89,65.81 140.66,59.97 140.85,58.18 138.00,64.15 135.61,69.99 133.46,75.76 131.47,81.47 129.91,87.06 128.48,92.61 127.22,98.10 126.35,103.48" fill="#b4ff4b" stroke="#b4ff4b" stroke-width="0.4"/>
<polygon points="126.35,103.48 127.22,98.10 128.48,92.61 129.91,87.06 131.47,81.47 133.46,75.76 135.61,69.99 138.00,64.15 140.85,58.18 141.03,56.39 138.10,62.51 135.66,68.47 133.46,74.37 131.43,80.21 129.83,85.92 128.36,91.59 127.08,97.21 126.20,102.71" fill="#c3ff3c" stroke="#c3ff3c" stroke-width="0.4"/>
<polygon points="126.20,102.71 127.08,97.21 128.36,91.59 129.83,85.92 131.43,80.21 133.46,74.37 135.66,68.47 138.10,62.51 141.03,56.39 141.21,54.62 138.20,60.87 135.71,66.96 133.46,72.98 131.39,78.95 129.75,84.78 128.25,90.58 126.93,96.32 126.05,101.93" fill="#d2ff2d" stroke="#d2ff2d" stroke-width="0.4"/>
<polygon points="126.05,101.93 126.93,96.32 128.25,90.58 129.75,84.78 131.39,78.95 133.46,72.98 135.71,66.96 138.20,60.87 141.21,54.62 141.39,52.85 138.29,59.23 135.75,65.45 133.46,71.59 131.35,77.68 129.67,83.64 128.14,89.56 126.79,95.41 125.90,101.14" fill="#e1ff1e" stroke="#e1ff1e" stroke-width="0.4"/>
<polygon points="125.90,101.14 126.79,95.41 128.14,89.56 129.67,83.64 131.35,77.68 133.46,71.59 135.75,65.45 138.29,59.23 141.39,52.85 141.57,51.08 138.39,57.60 135.79,63.95 133.46,70.21 131.31,76.42 129.60,82.50 128.03,88.53 126.65,94.51 125.75,100.34" fill="#f0ff0f" stroke="#f0ff0f" stroke-width="0.4"/>
<polygon points="125.75,100.34 126.65,94.51 128.03,88.53 129.60,82.50 131.31,76.42 133.46,70.21 135.79,63.95 138.39,57.60 141.57,51.08 141.74,49.33 138.48,55.98 135.83,62.45 133.46,68.83 131.28,75.16 129.52,81.35 127.92,87.50 126.51,93.60 125.61,99.54" fill="#ffff00" stroke="#ffff00" stroke-width="0.4"/>
<polygon points="125.61,99.54 126.51,93.60 127.92,87.50 129.52,81.35 131.28,75.16 133.46,68.83 135.83,62.45 138.48,55.98 141.74,49.33 141.91,47.58 138.57,54.36 135.87,60.95 133.46,67.45 131.24,73.89 129.44,80.21 127.81,86.47 126.37,92.68 125.46,98.73" fill="#fff000" stroke="#fff000" stroke-width="0.4"/>
<polygon points="125.46,98.73 126.37,92.68 127.81,86.47 129.44,80.21 131.24,73.89 133.46,67.45 135.87,60.95 138.57,54.36 141.91,47.58 142.08,45.84 138.66,52.75 135.91,59.46 133.45,66.07 131.20,72.63 129.37,79.06 127.70,85.44 126.23,91.76 125.32,97.91" fill="#ffe100" stroke="#ffe100" stroke-width="0.4"/>
<polygon points="125.32,97.91 126.23,91.76 127.70,85.44 129.37,79.06 131.20,72.63 133.45,66.07 135.91,59.46 138.66,52.75 142.08,45.84 142.24,44.11 138.74,51.14 135.94,57.97 133.45,64.70 131.16,71.37 129.29,77.91 127.59,84.40 126.10,90.83 125.18,97.08" fill="#ffd200" stroke="#ffd200" stroke-width="0.4"/>
<polygon points="125.18,97.08 126.10,90.83 127.59,84.40 129.29,77.91 131.16,71.37 133.45,64.70 135.94,57.97 138.74,51.14 142.24,44.11 142.41,42.39 138.82,49.55 135.98,56.48 133.44,63.32 131.12,70.10 129.22,76.75 127.48,83.36 125.96,89.89 125.04,96.25" fill="#ffc300" stroke="#ffc300" stroke-width="0.4"/>
<polygon points="125.04,96.25 125.96,89.89 127.48,83.36 129.22,76.75 131.12,70.10 133.44,63.32 135.98,56.48 138.82,49.55 142.41,42.39 142.57,40.67 138.90,47.95 136.01,55.00 133.44,61.95 131.09,68.84 129.14,75.60 127.37,82.31 125.82,88.95 124.90,95.41" fill="#ffb400" stroke="#ffb400" stroke-width="0.4"/>
<polygon points="124.90,95.41 125.82,88.95 127.37,82.31 129.14,75.60 131.09,68.84 133.44,61.95 136.01,55.00 138.90,47.95 142.57,40.67 142.72,38.96 138.97,46.37 136.04,53.53 133.43,60.58 131.05,67.57 129.07,74.44 127.27,81.26 125.69,88.01 124.77,94.56" fill="#ffa500" stroke="#ffa500" stroke-width="0.4"/>
<polygon points="124.77,94.56 125.69,88.01 127.27,81.26 129.07,74.44 131.05,67.57 133.43,60.58 136.04,53.53 138.97,46.37 142.72,38.96 142.88,37.27 139.05,44.79 136.07,52.05 133.42,59.22 131.01,66.31 129.00,73.28 127.16,80.20 125.55,87.06 124.64,93.70" fill="#ff9600" stroke="#ff9600" stroke-width="0.4"/>
<polygon points="124.64,93.70 125.55,87.06 127.16,80.20 129.00,73.28 131.01,66.31 133.42,59.22 136.07,52.05 139.05,44.79 142.88,37.27 143.03,35.58 139.11,43.22 136.09,50.59 133.42,57.85 130.97,65.05 128.93,72.12 127.06,79.15 125.42,86.10 124.50,92.83" fill="#ff8700" stroke="#ff8700" stroke-width="0.4"/>
<polygon points="124.50,92.83 125.42,86.10 127.06,79.15 128.93,72.12 130.97,65.05 133.42,57.85 136.09,50.59 139.11,43.22 143.03,35.58 143.17,33.90 139.18,41.65 136.12,49.12 133.41,56.49 130.94,63.78 128.85,70.96 126.95,78.08 125.28,85.13 124.37,91.96" fill="#ff7800" stroke="#ff7800" stroke-width="0.4"/>
<polygon points="124.37,91.96 125.28,85.13 126.95,78.08 128.85,70.96 130.94,63.78 133.41,56.49 136.12,49.12 139.18,41.65 143.17,33.90 143.31,32.23 139.24,40.09 136.14,47.66 133.40,55.13 130.90,62.52 128.78,69.79 126.85,77.02 125.15,84.16 124.25,91.07" fill="#ff6900" stroke="#ff6900" stroke-width="0.4"/>
<polygon points="124.25,91.07 125.15,84.16 126.85,77.02 128.78,69.79 130.90,62.52 133.40,55.13 136.14,47.66 139.24,40.09 143.31,32.23 143.45,30.56 139.30,38.54 136.16,46.21 133.39,53.77 130.86,61.26 128.71,68.63 126.75,75.94 125.02,83.19 124.12,90.18" fill="#ff5a00" stroke="#ff5a00" stroke-width="0.4"/>
<polygon points="124.12,90.18 125.02,83.19 126.75,75.94 128.71,68.63 130.86,61.26 133.39,53.77 136.16,46.21 139.30,38.54 143.45,30.56 143.59,28.91 139.35,37.00 136.18,44.76 133.38,52.41 130.83,59.99 128.64,67.46 126.65,74.87 124.89,82.21 123.99,89.28" fill="#ff4b00" stroke="#ff4b00" stroke-width="0.4"/>
<polygon points="123.99,89.28 124.89,82.21 126.65,74.87 128.64,67.46 130.83,59.99 133.38,52.41 136.18,44.76 139.35,37.00 143.59,28.91 143.72,27.27 139.40,35.46 136.20,43.32 133.37,51.06 130.79,58.73 128.57,66.29 126.55,73.79 124.76,81.22 123.87,88.37" fill="#ff3c00" stroke="#ff3c00" stroke-width="0.4"/>
<polygon points="123.87,88.37 124.76,81.22 126.55,73.79 128.57,66.29 130.79,58.73 133.37,51.06 136.20,43.32 139.40,35.46 143.72,27.27 143.84,25.64 139.45,33.93 136.21,41.88 133.35,49.71 130.75,57.46 128.50,65.11 126.45,72.70 124.63,80.22 123.75,87.46" fill="#ff2d00" stroke="#ff2d00" stroke-width="0.4"/>
<polygon points="123.75,87.46 124.63,80.22 126.45,72.70 128.50,65.11 130.75,57.46 133.35,49.71 136.21,41.88 139.45,33.93 143.84,25.64 143.96,24.01 139.49,32.41 136.23,40.44 133.34,48.36 130.72,56.20 128.44,63.94 126.35,71.61 124.50,79.22 123.62,86.53" fill="#ff1e00" stroke="#ff1e00" stroke-width="0.4"/>
<polygon points="123.62,86.53 124.50,79.22 126.35,71.61 128.44,63.94 130.72,56.20 133.34,48.36 136.23,40.44 139.49,32.41 143.96,24.01 144.08,22.40 139.53,30.89 136.24,39.01 133.32,47.01 130.68,54.94 128.37,62.76 126.25,70.52 124.37,78.21 123.50,85.59" fill="#ff0f00" stroke="#ff0f00" stroke-width="0.4"/>
<polygon points="123.50,85.59 124.37,78.21 126.25,70.52 128.37,62.76 130.68,54.94 133.32,47.01 136.24,39.01 139.53,30.89 144.08,22.40 144.19,20.80 139.57,29.39 136.25,37.59 133.31,45.67 130.65,53.67 128.30,61.57 126.15,69.42 124.24,77.19 123.38,84.65" fill="#ff0000" stroke="#ff0000" stroke-width="0.4"/>
<polygon points="123.38,84.65 124.24,77.19 126.15,69.42 128.30,61.57 130.65,53.67 133.31,45.67 136.25,37.59 139.57,29.39 144.19,20.80 144.29,19.21 139.60,27.89 136.25,36.17 133.29,44.33 130.61,52.41 128.24,60.39 126.06,68.32 124.11,76.17 123.26,83.70" fill="#f00000" stroke="#f00000" stroke-width="0.4"/>
<polygon points="123.26,83.70 124.11,76.17 126.06,68.32 128.24,60.39 130.61,52.41 133.29,44.33 136.25,36.17 139.60,27.89 144.29,19.21 144.39,17.62 139.63,26.40 136.26,34.75 133.28,42.99 130.57,51.14 128.17,59.21 125.96,67.21 123.98,75.14 123.14,82.73" fill="#e10000" stroke="#e10000" stroke-width="0.4"/>
<polygon points="123.14,82.73 123.98,75.14 125.96,67.21 128.17,59.21 130.57,51.14 133.28,42.99 136.26,34.75 139.63,26.40 144.39,17.62 144.47,16.06 139.65,24.92 136.26,33.34 133.26,41.65 130.54,49.88 128.11,58.02 125.87,66.10 123.86,74.11 123.02,81.76" fill="#d20000" stroke="#d20000" stroke-width="0.4"/>
<polygon points="123.02,81.76 123.86,74.11 125.87,66.10 128.11,58.02 130.54,49.88 133.26,41.65 136.26,33.34 139.65,24.92 144.47,16.06 144.55,14.50 139.67,23.44 136.26,31.94 133.24,40.32 130.50,48.61 128.04,56.83 125.78,64.98 123.73,73.06 122.90,80.79" fill="#c30000" stroke="#c30000" stroke-width="0.4"/>
<polygon points="122.90,80.79 123.73,73.06 125.78,64.98 128.04,56.83 130.50,48.61 133.24,40.32 136.26,31.94 139.67,23.44 144.55,14.50 144.62,12.95 139.68,21.97 136.26,30.54 133.22,38.99 130.47,47.35 127.98,55.63 125.69,63.86 123.61,72.01 122.77,79.80" fill="#b40000" stroke="#b40000" stroke-width="0.4"/>
<polygon points="122.77,79.80 123.61,72.01 125.69,63.86 127.98,55.63 130.47,47.35 133.22,38.99 136.26,30.54 139.68,21.97 144.62,12.95 144.67,11.42 139.70,20.52 136.25,29.15 133.20,37.66 130.43,46.09 127.92,54.44 125.60,62.73 123.48,70.96 122.63,78.81" fill="#a50000" stroke="#a50000" stroke-width="0.4"/>
<polygon points="122.63,78.81 123.48,70.96 125.60,62.73 127.92,54.44 130.43,46.09 133.20,37.66 136.25,29.15 139.70,20.52 144.67,11.42 144.69,9.91 139.70,19.06 136.25,27.76 133.18,36.33 130.39,44.82 127.85,53.24 125.51,61.60 123.36,69.89 122.47,77.81" fill="#960000" stroke="#960000" stroke-width="0.4"/>
<polygon points="122.47,77.81 123.36,69.89 125.51,61.60 127.85,53.24 130.39,44.82 133.18,36.33 136.25,27.76 139.70,19.06 144.69,9.91 144.40,8.50 139.70,17.62 136.24,26.37 133.16,35.01 130.36,43.56 127.79,52.04 125.42,60.46 123.24,68.82 122.00,76.90" fill="#870000" stroke="#870000" stroke-width="0.4"/>
<line x1="49.00" y1="124.00" x2="49.00" y2="37.30" stroke="#8f8f8f" stroke-width="0.9" />
<line x1="49.00" y1="124.00" x2="122.00" y2="163.60" stroke="#8f8f8f" stroke-width="0.9" />
<line x1="122.00" y1="163.60" x2="217.40" y2="134.80" stroke="#8f8f8f" stroke-width="0.9" />
<line x1="47.00" y1="124.00" x2="49.00" y2="124.00" stroke="#8f8f8f" stroke-width="0.6" />
<text x="43.20" y="127.37" font-size="10.8" text-anchor="end" font-family="'Liberation Sans', Arial, sans-serif" fill="#3a3a3a" stroke="#3a3a3a" stroke-width="0.18" >0</text>
<line x1="47.00" y1="98.50" x2="49.00" y2="98.50" stroke="#8f8f8f" stroke-width="0.6" />
<text x="43.20" y="101.87" font-size="10.8" text-anchor="end" font-family="'Liberation Sans', Arial, sans-serif" fill="#3a3a3a" stroke="#3a3a3a" stroke-width="0.18" >20</text>
<line x1="47.00" y1="73.00" x2="49.00" y2="73.00" stroke="#8f8f8f" stroke-width="0.6" />
<text x="43.20" y="76.37" font-size="10.8" text-anchor="end" font-family="'Liberation Sans', Arial, sans-serif" fill="#3a3a3a" stroke="#3a3a3a" stroke-width="0.18" >40</text>
<line x1="47.00" y1="47.50" x2="49.00" y2="47.50" stroke="#8f8f8f" stroke-width="0.6" />
<text x="43.20" y="50.87" font-size="10.8" text-anchor="end" font-family="'Liberation Sans', Arial, sans-serif" fill="#3a3a3a" stroke="#3a3a3a" stroke-width="0.18" >60</text>
<line x1="129.10" y1="161.46" x2="131.07" y2="162.52" stroke="#8f8f8f" stroke-width="0.6" />
<text x="142.70" y="176.87" font-size="10.8" text-anchor="middle" font-family="'Liberation Sans', Arial, sans-serif" fill="#3a3a3a" stroke="#3a3a3a" stroke-width="0.18" >−<tspan dx="0.9">4</tspan></text>
<line x1="149.40" y1="155.33" x2="151.37" y2="156.40" stroke="#8f8f8f" stroke-width="0.6" />
<text x="163.00" y="170.37" font-size="10.8" text-anchor="middle" font-family="'Liberation Sans', Arial, sans-serif" fill="#3a3a3a" stroke="#3a3a3a" stroke-width="0.18" >−<tspan dx="0.9">2</tspan></text>
<line x1="169.70" y1="149.20" x2="171.67" y2="150.27" stroke="#8f8f8f" stroke-width="0.6" />
<text x="178.30" y="164.27" font-size="10.8" text-anchor="middle" font-family="'Liberation Sans', Arial, sans-serif" fill="#3a3a3a" stroke="#3a3a3a" stroke-width="0.18" >0</text>
<line x1="190.00" y1="143.07" x2="191.97" y2="144.14" stroke="#8f8f8f" stroke-width="0.6" />
<text x="198.40" y="157.67" font-size="10.8" text-anchor="middle" font-family="'Liberation Sans', Arial, sans-serif" fill="#3a3a3a" stroke="#3a3a3a" stroke-width="0.18" >2</text>
<line x1="210.30" y1="136.94" x2="212.26" y2="138.01" stroke="#8f8f8f" stroke-width="0.6" />
<text x="218.40" y="151.57" font-size="10.8" text-anchor="middle" font-family="'Liberation Sans', Arial, sans-serif" fill="#3a3a3a" stroke="#3a3a3a" stroke-width="0.18" >4</text>
<text x="88.20" y="168.97" font-size="10.8" text-anchor="middle" font-family="'Liberation Sans', Arial, sans-serif" fill="#3a3a3a" stroke="#3a3a3a" stroke-width="0.18" >−<tspan dx="0.9">0.5</tspan></text>
<text x="76.40" y="158.37" font-size="10.8" text-anchor="middle" font-family="'Liberation Sans', Arial, sans-serif" fill="#3a3a3a" stroke="#3a3a3a" stroke-width="0.18" >0</text>
<text x="52.40" y="148.07" font-size="10.8" text-anchor="middle" font-family="'Liberation Sans', Arial, sans-serif" fill="#3a3a3a" stroke="#3a3a3a" stroke-width="0.18" >0.5</text>
<rect x="235.2" y="7.9" width="9.400000000000006" height="156.79999999999998" fill="url(#cba)" stroke="#8f8f8f" stroke-width="0.7"/>
<line x1="243.10" y1="164.70" x2="244.60" y2="164.70" stroke="#8f8f8f" stroke-width="0.6" />
<text x="247.80" y="169.77" font-size="10.8" text-anchor="start" font-family="'Liberation Sans', Arial, sans-serif" fill="#3a3a3a" stroke="#3a3a3a" stroke-width="0.18" >0</text>
<line x1="243.10" y1="141.64" x2="244.60" y2="141.64" stroke="#8f8f8f" stroke-width="0.6" />
<text x="247.80" y="146.71" font-size="10.8" text-anchor="start" font-family="'Liberation Sans', Arial, sans-serif" fill="#3a3a3a" stroke="#3a3a3a" stroke-width="0.18" >10</text>
<line x1="243.10" y1="118.58" x2="244.60" y2="118.58" stroke="#8f8f8f" stroke-width="0.6" />
<text x="247.80" y="123.65" font-size="10.8" text-anchor="start" font-family="'Liberation Sans', Arial, sans-serif" fill="#3a3a3a" stroke="#3a3a3a" stroke-width="0.18" >20</text>
<line x1="243.10" y1="95.52" x2="244.60" y2="95.52" stroke="#8f8f8f" stroke-width="0.6" />
<text x="247.80" y="100.59" font-size="10.8" text-anchor="start" font-family="'Liberation Sans', Arial, sans-serif" fill="#3a3a3a" stroke="#3a3a3a" stroke-width="0.18" >30</text>
<line x1="243.10" y1="72.46" x2="244.60" y2="72.46" stroke="#8f8f8f" stroke-width="0.6" />
<text x="247.80" y="77.53" font-size="10.8" text-anchor="start" font-family="'Liberation Sans', Arial, sans-serif" fill="#3a3a3a" stroke="#3a3a3a" stroke-width="0.18" >40</text>
<line x1="243.10" y1="49.41" x2="244.60" y2="49.41" stroke="#8f8f8f" stroke-width="0.6" />
<text x="247.80" y="54.47" font-size="10.8" text-anchor="start" font-family="'Liberation Sans', Arial, sans-serif" fill="#3a3a3a" stroke="#3a3a3a" stroke-width="0.18" >50</text>
<line x1="243.10" y1="26.35" x2="244.60" y2="26.35" stroke="#8f8f8f" stroke-width="0.6" />
<text x="247.80" y="31.41" font-size="10.8" text-anchor="start" font-family="'Liberation Sans', Arial, sans-serif" fill="#3a3a3a" stroke="#3a3a3a" stroke-width="0.18" >60</text>
<text x="0" y="0" font-size="16" font-family="'Liberation Serif', 'Times New Roman', serif" fill="#111" stroke="#111" stroke-width="0.25" text-anchor="middle" letter-spacing="0.45" transform="translate(20.00,89.50) rotate(-90)"><tspan font-style="italic">φ</tspan> (deg)</text>
<text x="0" y="0" font-size="16" font-family="'Liberation Serif', 'Times New Roman', serif" fill="#111" stroke="#111" stroke-width="0.25" text-anchor="middle" letter-spacing="0.45" transform="translate(19.60,346.40) rotate(-90)"><tspan font-style="italic">φ</tspan> (deg)</text>
<text x="0" y="0" font-size="16" font-family="'Liberation Serif', 'Times New Roman', serif" fill="#111" stroke="#111" stroke-width="0.25" text-anchor="middle" letter-spacing="0.45" transform="translate(408.50,456.50) rotate(0)"><tspan font-style="italic">φ</tspan> (deg)</text>
<text x="0" y="0" font-size="16" font-family="'Liberation Serif', 'Times New Roman', serif" fill="#111" stroke="#111" stroke-width="0.25" text-anchor="middle" letter-spacing="0.3" transform="translate(304.20,84.90) rotate(-90)">cos<tspan font-style="italic" dx="2">ψ</tspan></text>
<text x="0" y="0" font-size="16" font-family="'Liberation Serif', 'Times New Roman', serif" fill="#111" stroke="#111" stroke-width="0.25" text-anchor="middle" letter-spacing="0.3" transform="translate(304.20,347.60) rotate(-90)">cos<tspan font-style="italic" dx="2">ψ</tspan></text>
<text x="0" y="0" font-size="16" font-family="'Liberation Serif', 'Times New Roman', serif" fill="#111" stroke="#111" stroke-width="0.25" transform="translate(38.9,163.1) rotate(29)">cos<tspan dx="2.5">ψ</tspan></text>
<g  font-family="'Liberation Serif', 'Times New Roman', serif" font-style="italic" fill="#111" stroke="#111" stroke-width="0.25"><text x="111.80" y="456.30" font-size="17" transform="translate(111.80 0) scale(1.12 1) translate(-111.80 0)">f</text><text x="120.00" y="459.90" font-size="10.5">d</text><text x="0" y="0" font-size="23" font-style="normal" stroke-width="0.35" transform="translate(128.20 460.90) scale(0.68 1)">/</text><text x="135.60" y="456.30" font-size="17" transform="translate(135.60 0) scale(1.12 1) translate(-135.60 0)">f</text><text x="144.00" y="459.90" font-size="10.5">r</text></g>
<g  font-family="'Liberation Serif', 'Times New Roman', serif" font-style="italic" fill="#111" stroke="#111" stroke-width="0.25"><text x="394.70" y="197.00" font-size="17" transform="translate(394.70 0) scale(1.12 1) translate(-394.70 0)">f</text><text x="402.90" y="200.60" font-size="10.5">d</text><text x="0" y="0" font-size="23" font-style="normal" stroke-width="0.35" transform="translate(411.10 201.60) scale(0.68 1)">/</text><text x="418.50" y="197.00" font-size="17" transform="translate(418.50 0) scale(1.12 1) translate(-418.50 0)">f</text><text x="426.90" y="200.60" font-size="10.5">r</text></g>
<text x="0" y="0" font-size="17" font-family="'Liberation Serif', 'Times New Roman', serif" font-style="italic" fill="#111" stroke="#111" stroke-width="0.25" text-anchor="middle" dominant-baseline="central" transform="translate(176.70 182.20) rotate(-24) skewX(-14)">f</text>
<text x="0" y="0" font-size="10.5" font-family="'Liberation Serif', 'Times New Roman', serif" font-style="italic" fill="#111" stroke="#111" stroke-width="0.25" text-anchor="middle" dominant-baseline="central" transform="translate(184.30 186.30) rotate(-24)">d</text>
<text x="0" y="0" font-size="23" font-family="'Liberation Serif', 'Times New Roman', serif" font-style="normal" fill="#111" stroke="#111" stroke-width="0.35" text-anchor="middle" dominant-baseline="central" transform="translate(189.80 176.90) rotate(-24) scale(0.65 1)">/</text>
<text x="0" y="0" font-size="17" font-family="'Liberation Serif', 'Times New Roman', serif" font-style="italic" fill="#111" stroke="#111" stroke-width="0.25" text-anchor="middle" dominant-baseline="central" transform="translate(198.20 172.90) rotate(-24) skewX(-14)">f</text>
<text x="0" y="-0.8" font-size="10.5" font-family="'Liberation Serif', 'Times New Roman', serif" font-style="italic" fill="#111" stroke="#111" stroke-width="0.25" text-anchor="middle" dominant-baseline="central" transform="translate(205.30 176.00) rotate(-24)">r</text>
<text x="140.60" y="228.20" font-size="14" font-family="'Liberation Serif', 'Times New Roman', serif" fill="#111" stroke="#111" stroke-width="0.25" text-anchor="middle">(<tspan font-weight="bold">a</tspan>)</text>
<text x="421.40" y="227.60" font-size="14" font-family="'Liberation Serif', 'Times New Roman', serif" fill="#111" stroke="#111" stroke-width="0.25" text-anchor="middle">(<tspan font-weight="bold">b</tspan>)</text>
<text x="140.60" y="488.70" font-size="14" font-family="'Liberation Serif', 'Times New Roman', serif" fill="#111" stroke="#111" stroke-width="0.25" text-anchor="middle">(<tspan font-weight="bold">c</tspan>)</text>
<text x="421.50" y="488.70" font-size="14" font-family="'Liberation Serif', 'Times New Roman', serif" fill="#111" stroke="#111" stroke-width="0.25" text-anchor="middle">(<tspan font-weight="bold">d</tspan>)</text></svg></body></html>
